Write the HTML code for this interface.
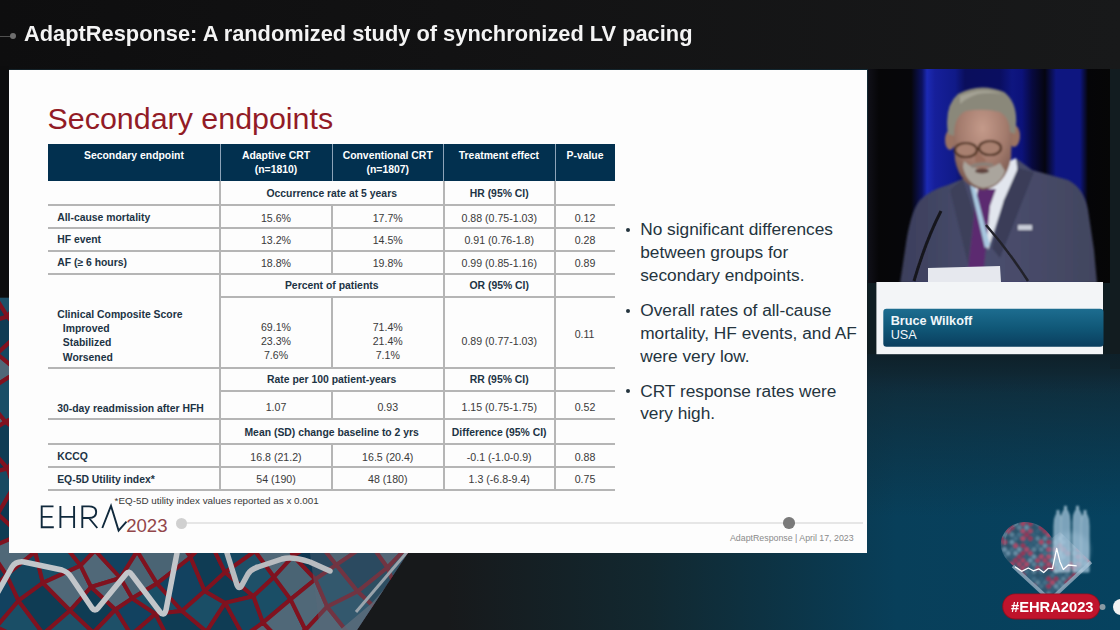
<!DOCTYPE html>
<html><head><meta charset="utf-8">
<style>
*{margin:0;padding:0;box-sizing:border-box}
html,body{width:1120px;height:630px;overflow:hidden;background:#111214;font-family:"Liberation Sans",sans-serif}
#root{position:absolute;left:0;top:0;width:1120px;height:630px;overflow:hidden;
 background:linear-gradient(180deg,rgba(19,36,44,0.85) 0%,rgba(19,36,44,0.75) 58%,rgba(19,36,44,0.35) 70%,rgba(19,36,44,0) 82%),linear-gradient(90deg,#17191b 0%,#17191b 40%,#122830 58%,#0c3446 70%,#083f5a 80%,#06425f 100%)}
.t{position:absolute;white-space:nowrap;line-height:1;transform-origin:0 0}
</style></head><body><div id="root">
<div style="position:absolute;left:0;top:0;width:1120px;height:69px;background:linear-gradient(90deg,#0e0e0f 0%,#121213 40%,#18191a 100%)"></div>
<svg style="position:absolute;left:0;top:0" width="1120" height="630" viewBox="0 0 1120 630">
<defs><clipPath id="mz"><path d="M0 298 H9 V553 H408 L357 630 H0 Z"/></clipPath>
<filter id="mzb"><feGaussianBlur stdDeviation="0.7"/></filter></defs>
<g clip-path="url(#mz)">
<rect x="0" y="290" width="420" height="340" fill="#80121f"/>
<path d="M-39.3 612.3 L-17.5 600.3 L-3.6 626.9 L-26.9 632.3 Z" fill="#144660" stroke="#80121f" stroke-width="4" stroke-linejoin="round"/>
<path d="M-26.9 632.3 L-3.6 626.9 L18.9 638.0 L-12.9 663.4 Z" fill="#4a6474" stroke="#80121f" stroke-width="4" stroke-linejoin="round"/>
<path d="M-41.8 571.0 L-11.2 548.1 L6.6 575.0 L-17.5 600.3 Z" fill="#0f3c54" stroke="#80121f" stroke-width="4" stroke-linejoin="round"/>
<path d="M-17.5 600.3 L6.6 575.0 L18.5 600.7 L-3.6 626.9 Z" fill="#124260" stroke="#80121f" stroke-width="4" stroke-linejoin="round"/>
<path d="M-3.6 626.9 L18.5 600.7 L43.3 633.9 L18.9 638.0 Z" fill="#1a4e66" stroke="#80121f" stroke-width="4" stroke-linejoin="round"/>
<path d="M18.9 638.0 L43.3 633.9 L59.2 648.8 L43.0 669.1 Z" fill="#144660" stroke="#80121f" stroke-width="4" stroke-linejoin="round"/>
<path d="M-48.1 505.8 L-25.9 476.9 L-2.2 514.0 L-26.2 519.9 Z" fill="#1a4e66" stroke="#80121f" stroke-width="4" stroke-linejoin="round"/>
<path d="M-26.2 519.9 L-2.2 514.0 L20.3 534.7 L-11.2 548.1 Z" fill="#0f3c54" stroke="#80121f" stroke-width="4" stroke-linejoin="round"/>
<path d="M-11.2 548.1 L20.3 534.7 L35.2 551.7 L6.6 575.0 Z" fill="#506878" stroke="#80121f" stroke-width="4" stroke-linejoin="round"/>
<path d="M6.6 575.0 L35.2 551.7 L42.9 582.9 L18.5 600.7 Z" fill="#144660" stroke="#80121f" stroke-width="4" stroke-linejoin="round"/>
<path d="M18.5 600.7 L42.9 582.9 L70.1 610.5 L43.3 633.9 Z" fill="#0f3c54" stroke="#80121f" stroke-width="4" stroke-linejoin="round"/>
<path d="M43.3 633.9 L70.1 610.5 L93.4 632.6 L59.2 648.8 Z" fill="#1e5068" stroke="#80121f" stroke-width="4" stroke-linejoin="round"/>
<path d="M59.2 648.8 L93.4 632.6 L108.7 660.6 L88.4 679.3 Z" fill="#1a4e66" stroke="#80121f" stroke-width="4" stroke-linejoin="round"/>
<path d="M-36.7 454.6 L-18.8 437.8 L7.7 468.5 L-25.9 476.9 Z" fill="#0d3650" stroke="#80121f" stroke-width="4" stroke-linejoin="round"/>
<path d="M-25.9 476.9 L7.7 468.5 L13.6 487.1 L-2.2 514.0 Z" fill="#184a62" stroke="#80121f" stroke-width="4" stroke-linejoin="round"/>
<path d="M-2.2 514.0 L13.6 487.1 L36.3 515.6 L20.3 534.7 Z" fill="#0d3650" stroke="#80121f" stroke-width="4" stroke-linejoin="round"/>
<path d="M20.3 534.7 L36.3 515.6 L56.6 535.3 L35.2 551.7 Z" fill="#0d3650" stroke="#80121f" stroke-width="4" stroke-linejoin="round"/>
<path d="M35.2 551.7 L56.6 535.3 L80.6 565.6 L42.9 582.9 Z" fill="#1a4e66" stroke="#80121f" stroke-width="4" stroke-linejoin="round"/>
<path d="M42.9 582.9 L80.6 565.6 L91.1 587.0 L70.1 610.5 Z" fill="#506878" stroke="#80121f" stroke-width="4" stroke-linejoin="round"/>
<path d="M70.1 610.5 L91.1 587.0 L115.5 609.5 L93.4 632.6 Z" fill="#0f3c54" stroke="#80121f" stroke-width="4" stroke-linejoin="round"/>
<path d="M93.4 632.6 L115.5 609.5 L131.3 634.9 L108.7 660.6 Z" fill="#1e5068" stroke="#80121f" stroke-width="4" stroke-linejoin="round"/>
<path d="M108.7 660.6 L131.3 634.9 L147.1 670.9 L123.0 684.8 Z" fill="#0f3c54" stroke="#80121f" stroke-width="4" stroke-linejoin="round"/>
<path d="M-32.7 416.8 L-16.8 393.7 L5.5 421.8 L-18.8 437.8 Z" fill="#506878" stroke="#80121f" stroke-width="4" stroke-linejoin="round"/>
<path d="M-18.8 437.8 L5.5 421.8 L29.5 438.8 L7.7 468.5 Z" fill="#0f3c54" stroke="#80121f" stroke-width="4" stroke-linejoin="round"/>
<path d="M7.7 468.5 L29.5 438.8 L48.5 464.7 L13.6 487.1 Z" fill="#124260" stroke="#80121f" stroke-width="4" stroke-linejoin="round"/>
<path d="M13.6 487.1 L48.5 464.7 L64.9 501.8 L36.3 515.6 Z" fill="#184a62" stroke="#80121f" stroke-width="4" stroke-linejoin="round"/>
<path d="M36.3 515.6 L64.9 501.8 L85.2 518.6 L56.6 535.3 Z" fill="#0f3c54" stroke="#80121f" stroke-width="4" stroke-linejoin="round"/>
<path d="M56.6 535.3 L85.2 518.6 L95.0 550.5 L80.6 565.6 Z" fill="#144660" stroke="#80121f" stroke-width="4" stroke-linejoin="round"/>
<path d="M80.6 565.6 L95.0 550.5 L120.5 578.0 L91.1 587.0 Z" fill="#506878" stroke="#80121f" stroke-width="4" stroke-linejoin="round"/>
<path d="M91.1 587.0 L120.5 578.0 L132.2 598.3 L115.5 609.5 Z" fill="#506878" stroke="#80121f" stroke-width="4" stroke-linejoin="round"/>
<path d="M115.5 609.5 L132.2 598.3 L155.6 613.8 L131.3 634.9 Z" fill="#124260" stroke="#80121f" stroke-width="4" stroke-linejoin="round"/>
<path d="M131.3 634.9 L155.6 613.8 L174.8 651.7 L147.1 670.9 Z" fill="#144660" stroke="#80121f" stroke-width="4" stroke-linejoin="round"/>
<path d="M-44.6 343.8 L-23.7 326.4 L-3.0 353.8 L-30.0 370.7 Z" fill="#0f3c54" stroke="#80121f" stroke-width="4" stroke-linejoin="round"/>
<path d="M-30.0 370.7 L-3.0 353.8 L18.3 371.3 L-16.8 393.7 Z" fill="#506878" stroke="#80121f" stroke-width="4" stroke-linejoin="round"/>
<path d="M-16.8 393.7 L18.3 371.3 L39.7 403.7 L5.5 421.8 Z" fill="#1a4e66" stroke="#80121f" stroke-width="4" stroke-linejoin="round"/>
<path d="M5.5 421.8 L39.7 403.7 L58.4 429.0 L29.5 438.8 Z" fill="#124260" stroke="#80121f" stroke-width="4" stroke-linejoin="round"/>
<path d="M29.5 438.8 L58.4 429.0 L70.5 450.8 L48.5 464.7 Z" fill="#506878" stroke="#80121f" stroke-width="4" stroke-linejoin="round"/>
<path d="M48.5 464.7 L70.5 450.8 L85.8 478.7 L64.9 501.8 Z" fill="#184a62" stroke="#80121f" stroke-width="4" stroke-linejoin="round"/>
<path d="M64.9 501.8 L85.8 478.7 L106.9 496.7 L85.2 518.6 Z" fill="#144660" stroke="#80121f" stroke-width="4" stroke-linejoin="round"/>
<path d="M85.2 518.6 L106.9 496.7 L124.1 534.2 L95.0 550.5 Z" fill="#144660" stroke="#80121f" stroke-width="4" stroke-linejoin="round"/>
<path d="M95.0 550.5 L124.1 534.2 L137.2 551.1 L120.5 578.0 Z" fill="#124260" stroke="#80121f" stroke-width="4" stroke-linejoin="round"/>
<path d="M120.5 578.0 L137.2 551.1 L157.0 583.5 L132.2 598.3 Z" fill="#4a6474" stroke="#80121f" stroke-width="4" stroke-linejoin="round"/>
<path d="M132.2 598.3 L157.0 583.5 L182.0 611.0 L155.6 613.8 Z" fill="#1a4e66" stroke="#80121f" stroke-width="4" stroke-linejoin="round"/>
<path d="M155.6 613.8 L182.0 611.0 L206.6 631.6 L174.8 651.7 Z" fill="#0f3c54" stroke="#80121f" stroke-width="4" stroke-linejoin="round"/>
<path d="M174.8 651.7 L206.6 631.6 L210.4 651.5 L190.7 665.1 Z" fill="#506878" stroke="#80121f" stroke-width="4" stroke-linejoin="round"/>
<path d="M-29.7 304.6 L-14.1 282.3 L7.6 316.5 L-23.7 326.4 Z" fill="#0f3c54" stroke="#80121f" stroke-width="4" stroke-linejoin="round"/>
<path d="M-23.7 326.4 L7.6 316.5 L20.8 332.0 L-3.0 353.8 Z" fill="#0f3c54" stroke="#80121f" stroke-width="4" stroke-linejoin="round"/>
<path d="M-3.0 353.8 L20.8 332.0 L45.9 359.4 L18.3 371.3 Z" fill="#144660" stroke="#80121f" stroke-width="4" stroke-linejoin="round"/>
<path d="M18.3 371.3 L45.9 359.4 L61.7 376.7 L39.7 403.7 Z" fill="#144660" stroke="#80121f" stroke-width="4" stroke-linejoin="round"/>
<path d="M39.7 403.7 L61.7 376.7 L79.9 414.2 L58.4 429.0 Z" fill="#4a6474" stroke="#80121f" stroke-width="4" stroke-linejoin="round"/>
<path d="M58.4 429.0 L79.9 414.2 L103.1 437.3 L70.5 450.8 Z" fill="#144660" stroke="#80121f" stroke-width="4" stroke-linejoin="round"/>
<path d="M70.5 450.8 L103.1 437.3 L107.1 462.0 L85.8 478.7 Z" fill="#1a4e66" stroke="#80121f" stroke-width="4" stroke-linejoin="round"/>
<path d="M85.8 478.7 L107.1 462.0 L125.4 485.2 L106.9 496.7 Z" fill="#124260" stroke="#80121f" stroke-width="4" stroke-linejoin="round"/>
<path d="M106.9 496.7 L125.4 485.2 L156.5 507.7 L124.1 534.2 Z" fill="#0f3c54" stroke="#80121f" stroke-width="4" stroke-linejoin="round"/>
<path d="M124.1 534.2 L156.5 507.7 L172.5 530.8 L137.2 551.1 Z" fill="#0d3650" stroke="#80121f" stroke-width="4" stroke-linejoin="round"/>
<path d="M137.2 551.1 L172.5 530.8 L190.6 557.2 L157.0 583.5 Z" fill="#4a6474" stroke="#80121f" stroke-width="4" stroke-linejoin="round"/>
<path d="M157.0 583.5 L190.6 557.2 L204.7 591.0 L182.0 611.0 Z" fill="#124260" stroke="#80121f" stroke-width="4" stroke-linejoin="round"/>
<path d="M182.0 611.0 L204.7 591.0 L225.2 602.9 L206.6 631.6 Z" fill="#1a4e66" stroke="#80121f" stroke-width="4" stroke-linejoin="round"/>
<path d="M206.6 631.6 L225.2 602.9 L243.7 636.6 L210.4 651.5 Z" fill="#0f3c54" stroke="#80121f" stroke-width="4" stroke-linejoin="round"/>
<path d="M-14.1 282.3 L9.4 271.7 L27.0 290.1 L7.6 316.5 Z" fill="#1e5068" stroke="#80121f" stroke-width="4" stroke-linejoin="round"/>
<path d="M7.6 316.5 L27.0 290.1 L49.6 323.6 L20.8 332.0 Z" fill="#1a4e66" stroke="#80121f" stroke-width="4" stroke-linejoin="round"/>
<path d="M20.8 332.0 L49.6 323.6 L64.7 344.3 L45.9 359.4 Z" fill="#144660" stroke="#80121f" stroke-width="4" stroke-linejoin="round"/>
<path d="M45.9 359.4 L64.7 344.3 L82.1 367.3 L61.7 376.7 Z" fill="#0d3650" stroke="#80121f" stroke-width="4" stroke-linejoin="round"/>
<path d="M61.7 376.7 L82.1 367.3 L110.9 394.8 L79.9 414.2 Z" fill="#184a62" stroke="#80121f" stroke-width="4" stroke-linejoin="round"/>
<path d="M79.9 414.2 L110.9 394.8 L116.9 414.9 L103.1 437.3 Z" fill="#124260" stroke="#80121f" stroke-width="4" stroke-linejoin="round"/>
<path d="M103.1 437.3 L116.9 414.9 L139.3 437.1 L107.1 462.0 Z" fill="#124260" stroke="#80121f" stroke-width="4" stroke-linejoin="round"/>
<path d="M107.1 462.0 L139.3 437.1 L155.0 476.0 L125.4 485.2 Z" fill="#0d3650" stroke="#80121f" stroke-width="4" stroke-linejoin="round"/>
<path d="M125.4 485.2 L155.0 476.0 L177.3 496.7 L156.5 507.7 Z" fill="#0f3c54" stroke="#80121f" stroke-width="4" stroke-linejoin="round"/>
<path d="M156.5 507.7 L177.3 496.7 L195.9 522.6 L172.5 530.8 Z" fill="#0f3c54" stroke="#80121f" stroke-width="4" stroke-linejoin="round"/>
<path d="M172.5 530.8 L195.9 522.6 L208.8 539.1 L190.6 557.2 Z" fill="#0f3c54" stroke="#80121f" stroke-width="4" stroke-linejoin="round"/>
<path d="M190.6 557.2 L208.8 539.1 L225.1 572.3 L204.7 591.0 Z" fill="#0f3c54" stroke="#80121f" stroke-width="4" stroke-linejoin="round"/>
<path d="M204.7 591.0 L225.1 572.3 L253.4 596.3 L225.2 602.9 Z" fill="#0f3c54" stroke="#80121f" stroke-width="4" stroke-linejoin="round"/>
<path d="M225.2 602.9 L253.4 596.3 L263.0 622.6 L243.7 636.6 Z" fill="#144660" stroke="#80121f" stroke-width="4" stroke-linejoin="round"/>
<path d="M243.7 636.6 L263.0 622.6 L283.5 644.0 L255.5 662.0 Z" fill="#506878" stroke="#80121f" stroke-width="4" stroke-linejoin="round"/>
<path d="M9.4 271.7 L37.6 243.0 L56.6 278.3 L27.0 290.1 Z" fill="#0d3650" stroke="#80121f" stroke-width="4" stroke-linejoin="round"/>
<path d="M27.0 290.1 L56.6 278.3 L74.2 292.4 L49.6 323.6 Z" fill="#0d3650" stroke="#80121f" stroke-width="4" stroke-linejoin="round"/>
<path d="M49.6 323.6 L74.2 292.4 L87.3 324.9 L64.7 344.3 Z" fill="#1a4e66" stroke="#80121f" stroke-width="4" stroke-linejoin="round"/>
<path d="M64.7 344.3 L87.3 324.9 L108.8 347.4 L82.1 367.3 Z" fill="#124260" stroke="#80121f" stroke-width="4" stroke-linejoin="round"/>
<path d="M82.1 367.3 L108.8 347.4 L121.4 374.1 L110.9 394.8 Z" fill="#0f3c54" stroke="#80121f" stroke-width="4" stroke-linejoin="round"/>
<path d="M110.9 394.8 L121.4 374.1 L151.8 401.6 L116.9 414.9 Z" fill="#1e5068" stroke="#80121f" stroke-width="4" stroke-linejoin="round"/>
<path d="M116.9 414.9 L151.8 401.6 L159.5 428.6 L139.3 437.1 Z" fill="#1e5068" stroke="#80121f" stroke-width="4" stroke-linejoin="round"/>
<path d="M139.3 437.1 L159.5 428.6 L181.5 441.8 L155.0 476.0 Z" fill="#124260" stroke="#80121f" stroke-width="4" stroke-linejoin="round"/>
<path d="M155.0 476.0 L181.5 441.8 L201.3 467.1 L177.3 496.7 Z" fill="#124260" stroke="#80121f" stroke-width="4" stroke-linejoin="round"/>
<path d="M177.3 496.7 L201.3 467.1 L220.4 499.1 L195.9 522.6 Z" fill="#1a4e66" stroke="#80121f" stroke-width="4" stroke-linejoin="round"/>
<path d="M195.9 522.6 L220.4 499.1 L236.9 521.1 L208.8 539.1 Z" fill="#1a4e66" stroke="#80121f" stroke-width="4" stroke-linejoin="round"/>
<path d="M208.8 539.1 L236.9 521.1 L255.1 551.1 L225.1 572.3 Z" fill="#144660" stroke="#80121f" stroke-width="4" stroke-linejoin="round"/>
<path d="M225.1 572.3 L255.1 551.1 L274.0 577.0 L253.4 596.3 Z" fill="#1e5068" stroke="#80121f" stroke-width="4" stroke-linejoin="round"/>
<path d="M253.4 596.3 L274.0 577.0 L290.6 599.4 L263.0 622.6 Z" fill="#1a4e66" stroke="#80121f" stroke-width="4" stroke-linejoin="round"/>
<path d="M263.0 622.6 L290.6 599.4 L305.5 630.0 L283.5 644.0 Z" fill="#506878" stroke="#80121f" stroke-width="4" stroke-linejoin="round"/>
<path d="M283.5 644.0 L305.5 630.0 L325.9 646.9 L297.3 668.5 Z" fill="#124260" stroke="#80121f" stroke-width="4" stroke-linejoin="round"/>
<path d="M56.6 278.3 L82.1 247.5 L106.3 283.1 L74.2 292.4 Z" fill="#506878" stroke="#80121f" stroke-width="4" stroke-linejoin="round"/>
<path d="M74.2 292.4 L106.3 283.1 L121.6 307.2 L87.3 324.9 Z" fill="#124260" stroke="#80121f" stroke-width="4" stroke-linejoin="round"/>
<path d="M87.3 324.9 L121.6 307.2 L135.1 338.6 L108.8 347.4 Z" fill="#0d3650" stroke="#80121f" stroke-width="4" stroke-linejoin="round"/>
<path d="M108.8 347.4 L135.1 338.6 L156.5 360.9 L121.4 374.1 Z" fill="#1e5068" stroke="#80121f" stroke-width="4" stroke-linejoin="round"/>
<path d="M121.4 374.1 L156.5 360.9 L173.0 373.6 L151.8 401.6 Z" fill="#0d3650" stroke="#80121f" stroke-width="4" stroke-linejoin="round"/>
<path d="M151.8 401.6 L173.0 373.6 L196.1 408.4 L159.5 428.6 Z" fill="#0d3650" stroke="#80121f" stroke-width="4" stroke-linejoin="round"/>
<path d="M159.5 428.6 L196.1 408.4 L201.3 432.8 L181.5 441.8 Z" fill="#0f3c54" stroke="#80121f" stroke-width="4" stroke-linejoin="round"/>
<path d="M181.5 441.8 L201.3 432.8 L225.8 450.0 L201.3 467.1 Z" fill="#1e5068" stroke="#80121f" stroke-width="4" stroke-linejoin="round"/>
<path d="M201.3 467.1 L225.8 450.0 L246.6 475.3 L220.4 499.1 Z" fill="#0f3c54" stroke="#80121f" stroke-width="4" stroke-linejoin="round"/>
<path d="M220.4 499.1 L246.6 475.3 L262.8 499.5 L236.9 521.1 Z" fill="#1a4e66" stroke="#80121f" stroke-width="4" stroke-linejoin="round"/>
<path d="M236.9 521.1 L262.8 499.5 L283.9 536.0 L255.1 551.1 Z" fill="#0d3650" stroke="#80121f" stroke-width="4" stroke-linejoin="round"/>
<path d="M255.1 551.1 L283.9 536.0 L293.3 556.0 L274.0 577.0 Z" fill="#506878" stroke="#80121f" stroke-width="4" stroke-linejoin="round"/>
<path d="M274.0 577.0 L293.3 556.0 L315.4 579.3 L290.6 599.4 Z" fill="#4a6474" stroke="#80121f" stroke-width="4" stroke-linejoin="round"/>
<path d="M290.6 599.4 L315.4 579.3 L327.2 606.7 L305.5 630.0 Z" fill="#506878" stroke="#80121f" stroke-width="4" stroke-linejoin="round"/>
<path d="M305.5 630.0 L327.2 606.7 L353.0 639.3 L325.9 646.9 Z" fill="#506878" stroke="#80121f" stroke-width="4" stroke-linejoin="round"/>
<path d="M106.3 283.1 L119.9 259.0 L140.5 280.2 L121.6 307.2 Z" fill="#506878" stroke="#80121f" stroke-width="4" stroke-linejoin="round"/>
<path d="M121.6 307.2 L140.5 280.2 L161.3 307.0 L135.1 338.6 Z" fill="#4a6474" stroke="#80121f" stroke-width="4" stroke-linejoin="round"/>
<path d="M135.1 338.6 L161.3 307.0 L183.5 341.8 L156.5 360.9 Z" fill="#124260" stroke="#80121f" stroke-width="4" stroke-linejoin="round"/>
<path d="M156.5 360.9 L183.5 341.8 L198.5 363.7 L173.0 373.6 Z" fill="#0d3650" stroke="#80121f" stroke-width="4" stroke-linejoin="round"/>
<path d="M173.0 373.6 L198.5 363.7 L208.1 383.5 L196.1 408.4 Z" fill="#0f3c54" stroke="#80121f" stroke-width="4" stroke-linejoin="round"/>
<path d="M196.1 408.4 L208.1 383.5 L224.4 412.6 L201.3 432.8 Z" fill="#1e5068" stroke="#80121f" stroke-width="4" stroke-linejoin="round"/>
<path d="M201.3 432.8 L224.4 412.6 L251.6 436.1 L225.8 450.0 Z" fill="#0d3650" stroke="#80121f" stroke-width="4" stroke-linejoin="round"/>
<path d="M225.8 450.0 L251.6 436.1 L272.4 467.2 L246.6 475.3 Z" fill="#0d3650" stroke="#80121f" stroke-width="4" stroke-linejoin="round"/>
<path d="M246.6 475.3 L272.4 467.2 L280.8 487.9 L262.8 499.5 Z" fill="#506878" stroke="#80121f" stroke-width="4" stroke-linejoin="round"/>
<path d="M262.8 499.5 L280.8 487.9 L303.3 506.4 L283.9 536.0 Z" fill="#1a4e66" stroke="#80121f" stroke-width="4" stroke-linejoin="round"/>
<path d="M283.9 536.0 L303.3 506.4 L316.9 540.6 L293.3 556.0 Z" fill="#0f3c54" stroke="#80121f" stroke-width="4" stroke-linejoin="round"/>
<path d="M293.3 556.0 L316.9 540.6 L336.3 564.8 L315.4 579.3 Z" fill="#0d3650" stroke="#80121f" stroke-width="4" stroke-linejoin="round"/>
<path d="M315.4 579.3 L336.3 564.8 L357.7 591.5 L327.2 606.7 Z" fill="#1a4e66" stroke="#80121f" stroke-width="4" stroke-linejoin="round"/>
<path d="M327.2 606.7 L357.7 591.5 L376.9 609.3 L353.0 639.3 Z" fill="#1a4e66" stroke="#80121f" stroke-width="4" stroke-linejoin="round"/>
<path d="M353.0 639.3 L376.9 609.3 L397.8 637.1 L376.8 659.6 Z" fill="#0d3650" stroke="#80121f" stroke-width="4" stroke-linejoin="round"/>
<path d="M140.5 280.2 L163.3 266.9 L182.1 301.0 L161.3 307.0 Z" fill="#184a62" stroke="#80121f" stroke-width="4" stroke-linejoin="round"/>
<path d="M161.3 307.0 L182.1 301.0 L197.9 323.8 L183.5 341.8 Z" fill="#124260" stroke="#80121f" stroke-width="4" stroke-linejoin="round"/>
<path d="M183.5 341.8 L197.9 323.8 L223.3 336.6 L198.5 363.7 Z" fill="#1e5068" stroke="#80121f" stroke-width="4" stroke-linejoin="round"/>
<path d="M198.5 363.7 L223.3 336.6 L236.9 373.1 L208.1 383.5 Z" fill="#184a62" stroke="#80121f" stroke-width="4" stroke-linejoin="round"/>
<path d="M208.1 383.5 L236.9 373.1 L258.9 396.0 L224.4 412.6 Z" fill="#144660" stroke="#80121f" stroke-width="4" stroke-linejoin="round"/>
<path d="M224.4 412.6 L258.9 396.0 L276.7 413.3 L251.6 436.1 Z" fill="#184a62" stroke="#80121f" stroke-width="4" stroke-linejoin="round"/>
<path d="M251.6 436.1 L276.7 413.3 L290.3 444.0 L272.4 467.2 Z" fill="#184a62" stroke="#80121f" stroke-width="4" stroke-linejoin="round"/>
<path d="M272.4 467.2 L290.3 444.0 L310.4 477.8 L280.8 487.9 Z" fill="#124260" stroke="#80121f" stroke-width="4" stroke-linejoin="round"/>
<path d="M280.8 487.9 L310.4 477.8 L335.5 494.9 L303.3 506.4 Z" fill="#506878" stroke="#80121f" stroke-width="4" stroke-linejoin="round"/>
<path d="M303.3 506.4 L335.5 494.9 L346.0 527.8 L316.9 540.6 Z" fill="#4a6474" stroke="#80121f" stroke-width="4" stroke-linejoin="round"/>
<path d="M316.9 540.6 L346.0 527.8 L369.5 542.6 L336.3 564.8 Z" fill="#4a6474" stroke="#80121f" stroke-width="4" stroke-linejoin="round"/>
<path d="M336.3 564.8 L369.5 542.6 L387.6 567.5 L357.7 591.5 Z" fill="#0d3650" stroke="#80121f" stroke-width="4" stroke-linejoin="round"/>
<path d="M357.7 591.5 L387.6 567.5 L397.1 592.9 L376.9 609.3 Z" fill="#0f3c54" stroke="#80121f" stroke-width="4" stroke-linejoin="round"/>
<path d="M376.9 609.3 L397.1 592.9 L414.8 617.2 L397.8 637.1 Z" fill="#506878" stroke="#80121f" stroke-width="4" stroke-linejoin="round"/>
<path d="M397.8 637.1 L414.8 617.2 L440.1 649.5 L414.2 671.5 Z" fill="#124260" stroke="#80121f" stroke-width="4" stroke-linejoin="round"/>
<path d="M163.3 266.9 L194.5 245.8 L210.2 282.7 L182.1 301.0 Z" fill="#4a6474" stroke="#80121f" stroke-width="4" stroke-linejoin="round"/>
<path d="M182.1 301.0 L210.2 282.7 L231.1 302.1 L197.9 323.8 Z" fill="#0d3650" stroke="#80121f" stroke-width="4" stroke-linejoin="round"/>
<path d="M197.9 323.8 L231.1 302.1 L252.1 330.2 L223.3 336.6 Z" fill="#0f3c54" stroke="#80121f" stroke-width="4" stroke-linejoin="round"/>
<path d="M223.3 336.6 L252.1 330.2 L267.0 355.3 L236.9 373.1 Z" fill="#506878" stroke="#80121f" stroke-width="4" stroke-linejoin="round"/>
<path d="M236.9 373.1 L267.0 355.3 L287.9 378.7 L258.9 396.0 Z" fill="#124260" stroke="#80121f" stroke-width="4" stroke-linejoin="round"/>
<path d="M258.9 396.0 L287.9 378.7 L302.1 404.4 L276.7 413.3 Z" fill="#184a62" stroke="#80121f" stroke-width="4" stroke-linejoin="round"/>
<path d="M276.7 413.3 L302.1 404.4 L318.4 423.7 L290.3 444.0 Z" fill="#144660" stroke="#80121f" stroke-width="4" stroke-linejoin="round"/>
<path d="M290.3 444.0 L318.4 423.7 L335.1 455.3 L310.4 477.8 Z" fill="#184a62" stroke="#80121f" stroke-width="4" stroke-linejoin="round"/>
<path d="M310.4 477.8 L335.1 455.3 L354.2 484.7 L335.5 494.9 Z" fill="#1e5068" stroke="#80121f" stroke-width="4" stroke-linejoin="round"/>
<path d="M335.5 494.9 L354.2 484.7 L365.9 499.2 L346.0 527.8 Z" fill="#144660" stroke="#80121f" stroke-width="4" stroke-linejoin="round"/>
<path d="M346.0 527.8 L365.9 499.2 L391.1 534.8 L369.5 542.6 Z" fill="#4a6474" stroke="#80121f" stroke-width="4" stroke-linejoin="round"/>
<path d="M369.5 542.6 L391.1 534.8 L405.6 549.0 L387.6 567.5 Z" fill="#506878" stroke="#80121f" stroke-width="4" stroke-linejoin="round"/>
<path d="M387.6 567.5 L405.6 549.0 L419.4 575.6 L397.1 592.9 Z" fill="#184a62" stroke="#80121f" stroke-width="4" stroke-linejoin="round"/>
<path d="M397.1 592.9 L419.4 575.6 L450.0 601.9 L414.8 617.2 Z" fill="#0d3650" stroke="#80121f" stroke-width="4" stroke-linejoin="round"/>
<path d="M414.8 617.2 L450.0 601.9 L469.1 628.1 L440.1 649.5 Z" fill="#184a62" stroke="#80121f" stroke-width="4" stroke-linejoin="round"/>
<path d="M210.2 282.7 L235.4 252.3 L250.5 283.4 L231.1 302.1 Z" fill="#1e5068" stroke="#80121f" stroke-width="4" stroke-linejoin="round"/>
<path d="M231.1 302.1 L250.5 283.4 L263.9 309.1 L252.1 330.2 Z" fill="#124260" stroke="#80121f" stroke-width="4" stroke-linejoin="round"/>
<path d="M252.1 330.2 L263.9 309.1 L288.9 337.2 L267.0 355.3 Z" fill="#184a62" stroke="#80121f" stroke-width="4" stroke-linejoin="round"/>
<path d="M267.0 355.3 L288.9 337.2 L304.8 357.1 L287.9 378.7 Z" fill="#4a6474" stroke="#80121f" stroke-width="4" stroke-linejoin="round"/>
<path d="M287.9 378.7 L304.8 357.1 L331.3 379.3 L302.1 404.4 Z" fill="#4a6474" stroke="#80121f" stroke-width="4" stroke-linejoin="round"/>
<path d="M302.1 404.4 L331.3 379.3 L349.2 406.7 L318.4 423.7 Z" fill="#4a6474" stroke="#80121f" stroke-width="4" stroke-linejoin="round"/>
<path d="M318.4 423.7 L349.2 406.7 L356.4 436.2 L335.1 455.3 Z" fill="#4a6474" stroke="#80121f" stroke-width="4" stroke-linejoin="round"/>
<path d="M335.1 455.3 L356.4 436.2 L382.2 462.0 L354.2 484.7 Z" fill="#144660" stroke="#80121f" stroke-width="4" stroke-linejoin="round"/>
<path d="M354.2 484.7 L382.2 462.0 L398.9 487.0 L365.9 499.2 Z" fill="#1a4e66" stroke="#80121f" stroke-width="4" stroke-linejoin="round"/>
<path d="M365.9 499.2 L398.9 487.0 L415.2 505.0 L391.1 534.8 Z" fill="#0d3650" stroke="#80121f" stroke-width="4" stroke-linejoin="round"/>
<path d="M391.1 534.8 L415.2 505.0 L436.1 526.0 L405.6 549.0 Z" fill="#1e5068" stroke="#80121f" stroke-width="4" stroke-linejoin="round"/>
<path d="M405.6 549.0 L436.1 526.0 L454.5 552.3 L419.4 575.6 Z" fill="#1e5068" stroke="#80121f" stroke-width="4" stroke-linejoin="round"/>
<path d="M419.4 575.6 L454.5 552.3 L463.7 584.5 L450.0 601.9 Z" fill="#506878" stroke="#80121f" stroke-width="4" stroke-linejoin="round"/>
<path d="M250.5 283.4 L279.2 256.7 L296.9 281.1 L263.9 309.1 Z" fill="#184a62" stroke="#80121f" stroke-width="4" stroke-linejoin="round"/>
<path d="M263.9 309.1 L296.9 281.1 L309.4 314.5 L288.9 337.2 Z" fill="#1a4e66" stroke="#80121f" stroke-width="4" stroke-linejoin="round"/>
<path d="M288.9 337.2 L309.4 314.5 L337.4 336.5 L304.8 357.1 Z" fill="#4a6474" stroke="#80121f" stroke-width="4" stroke-linejoin="round"/>
<path d="M304.8 357.1 L337.4 336.5 L352.9 370.2 L331.3 379.3 Z" fill="#0f3c54" stroke="#80121f" stroke-width="4" stroke-linejoin="round"/>
<path d="M331.3 379.3 L352.9 370.2 L366.0 391.7 L349.2 406.7 Z" fill="#124260" stroke="#80121f" stroke-width="4" stroke-linejoin="round"/>
<path d="M349.2 406.7 L366.0 391.7 L390.0 417.7 L356.4 436.2 Z" fill="#1e5068" stroke="#80121f" stroke-width="4" stroke-linejoin="round"/>
<path d="M356.4 436.2 L390.0 417.7 L409.8 439.7 L382.2 462.0 Z" fill="#144660" stroke="#80121f" stroke-width="4" stroke-linejoin="round"/>
<path d="M382.2 462.0 L409.8 439.7 L420.9 464.5 L398.9 487.0 Z" fill="#1e5068" stroke="#80121f" stroke-width="4" stroke-linejoin="round"/>
<path d="M398.9 487.0 L420.9 464.5 L441.1 497.0 L415.2 505.0 Z" fill="#124260" stroke="#80121f" stroke-width="4" stroke-linejoin="round"/>
<path d="M415.2 505.0 L441.1 497.0 L464.3 516.8 L436.1 526.0 Z" fill="#144660" stroke="#80121f" stroke-width="4" stroke-linejoin="round"/>
<path d="M296.9 281.1 L314.7 271.4 L334.7 292.2 L309.4 314.5 Z" fill="#1a4e66" stroke="#80121f" stroke-width="4" stroke-linejoin="round"/>
<path d="M309.4 314.5 L334.7 292.2 L359.2 325.7 L337.4 336.5 Z" fill="#1e5068" stroke="#80121f" stroke-width="4" stroke-linejoin="round"/>
<path d="M337.4 336.5 L359.2 325.7 L378.4 345.1 L352.9 370.2 Z" fill="#0f3c54" stroke="#80121f" stroke-width="4" stroke-linejoin="round"/>
<path d="M352.9 370.2 L378.4 345.1 L395.6 370.3 L366.0 391.7 Z" fill="#1e5068" stroke="#80121f" stroke-width="4" stroke-linejoin="round"/>
<path d="M366.0 391.7 L395.6 370.3 L409.4 401.0 L390.0 417.7 Z" fill="#0d3650" stroke="#80121f" stroke-width="4" stroke-linejoin="round"/>
<path d="M390.0 417.7 L409.4 401.0 L431.8 425.4 L409.8 439.7 Z" fill="#184a62" stroke="#80121f" stroke-width="4" stroke-linejoin="round"/>
<path d="M409.8 439.7 L431.8 425.4 L453.1 442.8 L420.9 464.5 Z" fill="#0f3c54" stroke="#80121f" stroke-width="4" stroke-linejoin="round"/>
<path d="M314.7 271.4 L351.8 249.8 L360.9 282.4 L334.7 292.2 Z" fill="#144660" stroke="#80121f" stroke-width="4" stroke-linejoin="round"/>
<path d="M334.7 292.2 L360.9 282.4 L385.3 305.5 L359.2 325.7 Z" fill="#0f3c54" stroke="#80121f" stroke-width="4" stroke-linejoin="round"/>
<path d="M359.2 325.7 L385.3 305.5 L402.6 329.9 L378.4 345.1 Z" fill="#4a6474" stroke="#80121f" stroke-width="4" stroke-linejoin="round"/>
<path d="M378.4 345.1 L402.6 329.9 L423.4 351.1 L395.6 370.3 Z" fill="#124260" stroke="#80121f" stroke-width="4" stroke-linejoin="round"/>
<path d="M395.6 370.3 L423.4 351.1 L440.4 384.4 L409.4 401.0 Z" fill="#4a6474" stroke="#80121f" stroke-width="4" stroke-linejoin="round"/>
<path d="M409.4 401.0 L440.4 384.4 L454.2 408.2 L431.8 425.4 Z" fill="#0d3650" stroke="#80121f" stroke-width="4" stroke-linejoin="round"/>
<path d="M360.9 282.4 L392.0 254.6 L404.7 283.4 L385.3 305.5 Z" fill="#0d3650" stroke="#80121f" stroke-width="4" stroke-linejoin="round"/>
<path d="M385.3 305.5 L404.7 283.4 L422.9 307.3 L402.6 329.9 Z" fill="#506878" stroke="#80121f" stroke-width="4" stroke-linejoin="round"/>
<path d="M402.6 329.9 L422.9 307.3 L440.8 341.9 L423.4 351.1 Z" fill="#144660" stroke="#80121f" stroke-width="4" stroke-linejoin="round"/>
<path d="M404.7 283.4 L427.2 265.0 L447.7 287.1 L422.9 307.3 Z" fill="#124260" stroke="#80121f" stroke-width="4" stroke-linejoin="round"/>
<path d="M310 553 L408 553 L357 630 L320 630 Z" fill="#5a6a78" opacity="0.4"/><path d="M372 603 L392 580 L360 630 L340 630 Z" fill="#5c6e7c" opacity="0.8"/>
<path d="M408 551 L356 612" stroke="#9aa4ac" stroke-width="3" fill="none"/>
<path d="M-2 592 L12 567 Q16 561 24 562 L62 570 Q68 572 71 577 L92 608 Q95 612 98 608 L126 574 Q129 570 132 575 L160 612 Q164 617 166 610 L177 553" stroke="#c2c6ca" stroke-width="5.5" fill="none" stroke-linejoin="round" stroke-linecap="round"/>
<path d="M227 553 L237 585 Q239 590 242 585 L248 574 Q251 569 258 567 L282 559 Q292 556 310 562 L330 571" stroke="#b8bcc0" stroke-width="5.5" fill="none" stroke-linejoin="round" stroke-linecap="round"/>
</g></svg>
<svg style="position:absolute;left:0;top:0" width="1120" height="630" viewBox="0 0 1120 630">
<defs><clipPath id="hz"><path d="M1050 600 L1008 561 Q998 550 1002 537 Q1008 523 1024 522 Q1042 522 1052 538 L1060 532 L1091 562 Z"/></clipPath>
<filter id="lb"><feGaussianBlur stdDeviation="0.9"/></filter>
<filter id="lb2"><feGaussianBlur stdDeviation="2.5"/></filter></defs>
<g clip-path="url(#hz)" filter="url(#lb)">
<rect x="995" y="515" width="100" height="80" fill="#2a5670"/>
<g transform="rotate(45 1045 555)">
<rect x="979.2" y="489.2" width="4.2" height="4.2" fill="#5c8298"/>
<rect x="979.2" y="494.4" width="4.2" height="4.2" fill="#a84262"/>
<rect x="979.2" y="499.6" width="4.2" height="4.2" fill="#9a3456"/>
<rect x="979.2" y="504.8" width="4.2" height="4.2" fill="#6a90a8"/>
<rect x="979.2" y="510.0" width="4.2" height="4.2" fill="#2e546c"/>
<rect x="979.2" y="515.2" width="4.2" height="4.2" fill="#5c8298"/>
<rect x="979.2" y="520.4" width="4.2" height="4.2" fill="#34607a"/>
<rect x="979.2" y="525.6" width="4.2" height="4.2" fill="#456f88"/>
<rect x="979.2" y="530.8" width="4.2" height="4.2" fill="#9a3456"/>
<rect x="979.2" y="536.0" width="4.2" height="4.2" fill="#9a3456"/>
<rect x="979.2" y="541.2" width="4.2" height="4.2" fill="#9a3456"/>
<rect x="979.2" y="546.4" width="4.2" height="4.2" fill="#6a90a8"/>
<rect x="979.2" y="551.6" width="4.2" height="4.2" fill="#b04a68"/>
<rect x="979.2" y="556.8" width="4.2" height="4.2" fill="#b04a68"/>
<rect x="979.2" y="562.0" width="4.2" height="4.2" fill="#456f88"/>
<rect x="979.2" y="567.2" width="4.2" height="4.2" fill="#34607a"/>
<rect x="979.2" y="572.4" width="4.2" height="4.2" fill="#456f88"/>
<rect x="979.2" y="577.6" width="4.2" height="4.2" fill="#456f88"/>
<rect x="979.2" y="582.8" width="4.2" height="4.2" fill="#a84262"/>
<rect x="979.2" y="588.0" width="4.2" height="4.2" fill="#6a90a8"/>
<rect x="979.2" y="593.2" width="4.2" height="4.2" fill="#2e546c"/>
<rect x="979.2" y="598.4" width="4.2" height="4.2" fill="#456f88"/>
<rect x="979.2" y="603.6" width="4.2" height="4.2" fill="#34607a"/>
<rect x="979.2" y="608.8" width="4.2" height="4.2" fill="#5c8298"/>
<rect x="979.2" y="614.0" width="4.2" height="4.2" fill="#b04a68"/>
<rect x="979.2" y="619.2" width="4.2" height="4.2" fill="#5c8298"/>
<rect x="979.2" y="624.4" width="4.2" height="4.2" fill="#6a90a8"/>
<rect x="979.2" y="629.6" width="4.2" height="4.2" fill="#2e546c"/>
<rect x="984.4" y="489.2" width="4.2" height="4.2" fill="#2e546c"/>
<rect x="984.4" y="494.4" width="4.2" height="4.2" fill="#5c8298"/>
<rect x="984.4" y="499.6" width="4.2" height="4.2" fill="#9a3456"/>
<rect x="984.4" y="504.8" width="4.2" height="4.2" fill="#a84262"/>
<rect x="984.4" y="510.0" width="4.2" height="4.2" fill="#6a90a8"/>
<rect x="984.4" y="515.2" width="4.2" height="4.2" fill="#9a3456"/>
<rect x="984.4" y="520.4" width="4.2" height="4.2" fill="#9a3456"/>
<rect x="984.4" y="525.6" width="4.2" height="4.2" fill="#9a3456"/>
<rect x="984.4" y="530.8" width="4.2" height="4.2" fill="#a84262"/>
<rect x="984.4" y="536.0" width="4.2" height="4.2" fill="#b04a68"/>
<rect x="984.4" y="541.2" width="4.2" height="4.2" fill="#9a3456"/>
<rect x="984.4" y="546.4" width="4.2" height="4.2" fill="#456f88"/>
<rect x="984.4" y="551.6" width="4.2" height="4.2" fill="#5c8298"/>
<rect x="984.4" y="556.8" width="4.2" height="4.2" fill="#6a90a8"/>
<rect x="984.4" y="562.0" width="4.2" height="4.2" fill="#9a3456"/>
<rect x="984.4" y="567.2" width="4.2" height="4.2" fill="#2e546c"/>
<rect x="984.4" y="572.4" width="4.2" height="4.2" fill="#a84262"/>
<rect x="984.4" y="577.6" width="4.2" height="4.2" fill="#b04a68"/>
<rect x="984.4" y="582.8" width="4.2" height="4.2" fill="#456f88"/>
<rect x="984.4" y="588.0" width="4.2" height="4.2" fill="#b04a68"/>
<rect x="984.4" y="593.2" width="4.2" height="4.2" fill="#6a90a8"/>
<rect x="984.4" y="598.4" width="4.2" height="4.2" fill="#6a90a8"/>
<rect x="984.4" y="603.6" width="4.2" height="4.2" fill="#a84262"/>
<rect x="984.4" y="608.8" width="4.2" height="4.2" fill="#34607a"/>
<rect x="984.4" y="614.0" width="4.2" height="4.2" fill="#456f88"/>
<rect x="984.4" y="619.2" width="4.2" height="4.2" fill="#6a90a8"/>
<rect x="984.4" y="624.4" width="4.2" height="4.2" fill="#b04a68"/>
<rect x="984.4" y="629.6" width="4.2" height="4.2" fill="#34607a"/>
<rect x="989.6" y="489.2" width="4.2" height="4.2" fill="#5c8298"/>
<rect x="989.6" y="494.4" width="4.2" height="4.2" fill="#b04a68"/>
<rect x="989.6" y="499.6" width="4.2" height="4.2" fill="#2e546c"/>
<rect x="989.6" y="504.8" width="4.2" height="4.2" fill="#5c8298"/>
<rect x="989.6" y="510.0" width="4.2" height="4.2" fill="#9a3456"/>
<rect x="989.6" y="515.2" width="4.2" height="4.2" fill="#b04a68"/>
<rect x="989.6" y="520.4" width="4.2" height="4.2" fill="#2e546c"/>
<rect x="989.6" y="525.6" width="4.2" height="4.2" fill="#9a3456"/>
<rect x="989.6" y="530.8" width="4.2" height="4.2" fill="#5c8298"/>
<rect x="989.6" y="536.0" width="4.2" height="4.2" fill="#2e546c"/>
<rect x="989.6" y="541.2" width="4.2" height="4.2" fill="#456f88"/>
<rect x="989.6" y="546.4" width="4.2" height="4.2" fill="#6a90a8"/>
<rect x="989.6" y="551.6" width="4.2" height="4.2" fill="#5c8298"/>
<rect x="989.6" y="556.8" width="4.2" height="4.2" fill="#b04a68"/>
<rect x="989.6" y="562.0" width="4.2" height="4.2" fill="#456f88"/>
<rect x="989.6" y="567.2" width="4.2" height="4.2" fill="#34607a"/>
<rect x="989.6" y="572.4" width="4.2" height="4.2" fill="#9a3456"/>
<rect x="989.6" y="577.6" width="4.2" height="4.2" fill="#456f88"/>
<rect x="989.6" y="582.8" width="4.2" height="4.2" fill="#b04a68"/>
<rect x="989.6" y="588.0" width="4.2" height="4.2" fill="#6a90a8"/>
<rect x="989.6" y="593.2" width="4.2" height="4.2" fill="#6a90a8"/>
<rect x="989.6" y="598.4" width="4.2" height="4.2" fill="#2e546c"/>
<rect x="989.6" y="603.6" width="4.2" height="4.2" fill="#b04a68"/>
<rect x="989.6" y="608.8" width="4.2" height="4.2" fill="#456f88"/>
<rect x="989.6" y="614.0" width="4.2" height="4.2" fill="#6a90a8"/>
<rect x="989.6" y="619.2" width="4.2" height="4.2" fill="#5c8298"/>
<rect x="989.6" y="624.4" width="4.2" height="4.2" fill="#6a90a8"/>
<rect x="989.6" y="629.6" width="4.2" height="4.2" fill="#2e546c"/>
<rect x="994.8" y="489.2" width="4.2" height="4.2" fill="#9a3456"/>
<rect x="994.8" y="494.4" width="4.2" height="4.2" fill="#5c8298"/>
<rect x="994.8" y="499.6" width="4.2" height="4.2" fill="#b04a68"/>
<rect x="994.8" y="504.8" width="4.2" height="4.2" fill="#5c8298"/>
<rect x="994.8" y="510.0" width="4.2" height="4.2" fill="#b04a68"/>
<rect x="994.8" y="515.2" width="4.2" height="4.2" fill="#5c8298"/>
<rect x="994.8" y="520.4" width="4.2" height="4.2" fill="#a84262"/>
<rect x="994.8" y="525.6" width="4.2" height="4.2" fill="#34607a"/>
<rect x="994.8" y="530.8" width="4.2" height="4.2" fill="#34607a"/>
<rect x="994.8" y="536.0" width="4.2" height="4.2" fill="#2e546c"/>
<rect x="994.8" y="541.2" width="4.2" height="4.2" fill="#5c8298"/>
<rect x="994.8" y="546.4" width="4.2" height="4.2" fill="#9a3456"/>
<rect x="994.8" y="551.6" width="4.2" height="4.2" fill="#a84262"/>
<rect x="994.8" y="556.8" width="4.2" height="4.2" fill="#a84262"/>
<rect x="994.8" y="562.0" width="4.2" height="4.2" fill="#6a90a8"/>
<rect x="994.8" y="567.2" width="4.2" height="4.2" fill="#5c8298"/>
<rect x="994.8" y="572.4" width="4.2" height="4.2" fill="#a84262"/>
<rect x="994.8" y="577.6" width="4.2" height="4.2" fill="#b04a68"/>
<rect x="994.8" y="582.8" width="4.2" height="4.2" fill="#456f88"/>
<rect x="994.8" y="588.0" width="4.2" height="4.2" fill="#6a90a8"/>
<rect x="994.8" y="593.2" width="4.2" height="4.2" fill="#b04a68"/>
<rect x="994.8" y="598.4" width="4.2" height="4.2" fill="#b04a68"/>
<rect x="994.8" y="603.6" width="4.2" height="4.2" fill="#456f88"/>
<rect x="994.8" y="608.8" width="4.2" height="4.2" fill="#5c8298"/>
<rect x="994.8" y="614.0" width="4.2" height="4.2" fill="#9a3456"/>
<rect x="994.8" y="619.2" width="4.2" height="4.2" fill="#2e546c"/>
<rect x="994.8" y="624.4" width="4.2" height="4.2" fill="#b04a68"/>
<rect x="994.8" y="629.6" width="4.2" height="4.2" fill="#a84262"/>
<rect x="1000.0" y="489.2" width="4.2" height="4.2" fill="#456f88"/>
<rect x="1000.0" y="494.4" width="4.2" height="4.2" fill="#a84262"/>
<rect x="1000.0" y="499.6" width="4.2" height="4.2" fill="#2e546c"/>
<rect x="1000.0" y="504.8" width="4.2" height="4.2" fill="#6a90a8"/>
<rect x="1000.0" y="510.0" width="4.2" height="4.2" fill="#34607a"/>
<rect x="1000.0" y="515.2" width="4.2" height="4.2" fill="#a84262"/>
<rect x="1000.0" y="520.4" width="4.2" height="4.2" fill="#2e546c"/>
<rect x="1000.0" y="525.6" width="4.2" height="4.2" fill="#2e546c"/>
<rect x="1000.0" y="530.8" width="4.2" height="4.2" fill="#456f88"/>
<rect x="1000.0" y="536.0" width="4.2" height="4.2" fill="#34607a"/>
<rect x="1000.0" y="541.2" width="4.2" height="4.2" fill="#a84262"/>
<rect x="1000.0" y="546.4" width="4.2" height="4.2" fill="#34607a"/>
<rect x="1000.0" y="551.6" width="4.2" height="4.2" fill="#5c8298"/>
<rect x="1000.0" y="556.8" width="4.2" height="4.2" fill="#9a3456"/>
<rect x="1000.0" y="562.0" width="4.2" height="4.2" fill="#a84262"/>
<rect x="1000.0" y="567.2" width="4.2" height="4.2" fill="#5c8298"/>
<rect x="1000.0" y="572.4" width="4.2" height="4.2" fill="#9a3456"/>
<rect x="1000.0" y="577.6" width="4.2" height="4.2" fill="#b04a68"/>
<rect x="1000.0" y="582.8" width="4.2" height="4.2" fill="#6a90a8"/>
<rect x="1000.0" y="588.0" width="4.2" height="4.2" fill="#5c8298"/>
<rect x="1000.0" y="593.2" width="4.2" height="4.2" fill="#b04a68"/>
<rect x="1000.0" y="598.4" width="4.2" height="4.2" fill="#9a3456"/>
<rect x="1000.0" y="603.6" width="4.2" height="4.2" fill="#a84262"/>
<rect x="1000.0" y="608.8" width="4.2" height="4.2" fill="#5c8298"/>
<rect x="1000.0" y="614.0" width="4.2" height="4.2" fill="#6a90a8"/>
<rect x="1000.0" y="619.2" width="4.2" height="4.2" fill="#34607a"/>
<rect x="1000.0" y="624.4" width="4.2" height="4.2" fill="#9a3456"/>
<rect x="1000.0" y="629.6" width="4.2" height="4.2" fill="#34607a"/>
<rect x="1005.2" y="489.2" width="4.2" height="4.2" fill="#2e546c"/>
<rect x="1005.2" y="494.4" width="4.2" height="4.2" fill="#a84262"/>
<rect x="1005.2" y="499.6" width="4.2" height="4.2" fill="#5c8298"/>
<rect x="1005.2" y="504.8" width="4.2" height="4.2" fill="#5c8298"/>
<rect x="1005.2" y="510.0" width="4.2" height="4.2" fill="#5c8298"/>
<rect x="1005.2" y="515.2" width="4.2" height="4.2" fill="#2e546c"/>
<rect x="1005.2" y="520.4" width="4.2" height="4.2" fill="#5c8298"/>
<rect x="1005.2" y="525.6" width="4.2" height="4.2" fill="#2e546c"/>
<rect x="1005.2" y="530.8" width="4.2" height="4.2" fill="#456f88"/>
<rect x="1005.2" y="536.0" width="4.2" height="4.2" fill="#456f88"/>
<rect x="1005.2" y="541.2" width="4.2" height="4.2" fill="#b04a68"/>
<rect x="1005.2" y="546.4" width="4.2" height="4.2" fill="#a84262"/>
<rect x="1005.2" y="551.6" width="4.2" height="4.2" fill="#5c8298"/>
<rect x="1005.2" y="556.8" width="4.2" height="4.2" fill="#2e546c"/>
<rect x="1005.2" y="562.0" width="4.2" height="4.2" fill="#5c8298"/>
<rect x="1005.2" y="567.2" width="4.2" height="4.2" fill="#2e546c"/>
<rect x="1005.2" y="572.4" width="4.2" height="4.2" fill="#a84262"/>
<rect x="1005.2" y="577.6" width="4.2" height="4.2" fill="#2e546c"/>
<rect x="1005.2" y="582.8" width="4.2" height="4.2" fill="#9a3456"/>
<rect x="1005.2" y="588.0" width="4.2" height="4.2" fill="#456f88"/>
<rect x="1005.2" y="593.2" width="4.2" height="4.2" fill="#34607a"/>
<rect x="1005.2" y="598.4" width="4.2" height="4.2" fill="#9a3456"/>
<rect x="1005.2" y="603.6" width="4.2" height="4.2" fill="#6a90a8"/>
<rect x="1005.2" y="608.8" width="4.2" height="4.2" fill="#6a90a8"/>
<rect x="1005.2" y="614.0" width="4.2" height="4.2" fill="#a84262"/>
<rect x="1005.2" y="619.2" width="4.2" height="4.2" fill="#b04a68"/>
<rect x="1005.2" y="624.4" width="4.2" height="4.2" fill="#456f88"/>
<rect x="1005.2" y="629.6" width="4.2" height="4.2" fill="#9a3456"/>
<rect x="1010.4" y="489.2" width="4.2" height="4.2" fill="#34607a"/>
<rect x="1010.4" y="494.4" width="4.2" height="4.2" fill="#b04a68"/>
<rect x="1010.4" y="499.6" width="4.2" height="4.2" fill="#5c8298"/>
<rect x="1010.4" y="504.8" width="4.2" height="4.2" fill="#a84262"/>
<rect x="1010.4" y="510.0" width="4.2" height="4.2" fill="#2e546c"/>
<rect x="1010.4" y="515.2" width="4.2" height="4.2" fill="#5c8298"/>
<rect x="1010.4" y="520.4" width="4.2" height="4.2" fill="#6a90a8"/>
<rect x="1010.4" y="525.6" width="4.2" height="4.2" fill="#9a3456"/>
<rect x="1010.4" y="530.8" width="4.2" height="4.2" fill="#5c8298"/>
<rect x="1010.4" y="536.0" width="4.2" height="4.2" fill="#6a90a8"/>
<rect x="1010.4" y="541.2" width="4.2" height="4.2" fill="#9a3456"/>
<rect x="1010.4" y="546.4" width="4.2" height="4.2" fill="#6a90a8"/>
<rect x="1010.4" y="551.6" width="4.2" height="4.2" fill="#b04a68"/>
<rect x="1010.4" y="556.8" width="4.2" height="4.2" fill="#456f88"/>
<rect x="1010.4" y="562.0" width="4.2" height="4.2" fill="#456f88"/>
<rect x="1010.4" y="567.2" width="4.2" height="4.2" fill="#6a90a8"/>
<rect x="1010.4" y="572.4" width="4.2" height="4.2" fill="#2e546c"/>
<rect x="1010.4" y="577.6" width="4.2" height="4.2" fill="#6a90a8"/>
<rect x="1010.4" y="582.8" width="4.2" height="4.2" fill="#34607a"/>
<rect x="1010.4" y="588.0" width="4.2" height="4.2" fill="#9a3456"/>
<rect x="1010.4" y="593.2" width="4.2" height="4.2" fill="#a84262"/>
<rect x="1010.4" y="598.4" width="4.2" height="4.2" fill="#456f88"/>
<rect x="1010.4" y="603.6" width="4.2" height="4.2" fill="#b04a68"/>
<rect x="1010.4" y="608.8" width="4.2" height="4.2" fill="#b04a68"/>
<rect x="1010.4" y="614.0" width="4.2" height="4.2" fill="#9a3456"/>
<rect x="1010.4" y="619.2" width="4.2" height="4.2" fill="#5c8298"/>
<rect x="1010.4" y="624.4" width="4.2" height="4.2" fill="#9a3456"/>
<rect x="1010.4" y="629.6" width="4.2" height="4.2" fill="#2e546c"/>
<rect x="1015.6" y="489.2" width="4.2" height="4.2" fill="#456f88"/>
<rect x="1015.6" y="494.4" width="4.2" height="4.2" fill="#2e546c"/>
<rect x="1015.6" y="499.6" width="4.2" height="4.2" fill="#5c8298"/>
<rect x="1015.6" y="504.8" width="4.2" height="4.2" fill="#5c8298"/>
<rect x="1015.6" y="510.0" width="4.2" height="4.2" fill="#456f88"/>
<rect x="1015.6" y="515.2" width="4.2" height="4.2" fill="#a84262"/>
<rect x="1015.6" y="520.4" width="4.2" height="4.2" fill="#a84262"/>
<rect x="1015.6" y="525.6" width="4.2" height="4.2" fill="#9a3456"/>
<rect x="1015.6" y="530.8" width="4.2" height="4.2" fill="#9a3456"/>
<rect x="1015.6" y="536.0" width="4.2" height="4.2" fill="#456f88"/>
<rect x="1015.6" y="541.2" width="4.2" height="4.2" fill="#2e546c"/>
<rect x="1015.6" y="546.4" width="4.2" height="4.2" fill="#a84262"/>
<rect x="1015.6" y="551.6" width="4.2" height="4.2" fill="#9a3456"/>
<rect x="1015.6" y="556.8" width="4.2" height="4.2" fill="#b04a68"/>
<rect x="1015.6" y="562.0" width="4.2" height="4.2" fill="#2e546c"/>
<rect x="1015.6" y="567.2" width="4.2" height="4.2" fill="#b04a68"/>
<rect x="1015.6" y="572.4" width="4.2" height="4.2" fill="#456f88"/>
<rect x="1015.6" y="577.6" width="4.2" height="4.2" fill="#6a90a8"/>
<rect x="1015.6" y="582.8" width="4.2" height="4.2" fill="#456f88"/>
<rect x="1015.6" y="588.0" width="4.2" height="4.2" fill="#5c8298"/>
<rect x="1015.6" y="593.2" width="4.2" height="4.2" fill="#9a3456"/>
<rect x="1015.6" y="598.4" width="4.2" height="4.2" fill="#a84262"/>
<rect x="1015.6" y="603.6" width="4.2" height="4.2" fill="#456f88"/>
<rect x="1015.6" y="608.8" width="4.2" height="4.2" fill="#b04a68"/>
<rect x="1015.6" y="614.0" width="4.2" height="4.2" fill="#b04a68"/>
<rect x="1015.6" y="619.2" width="4.2" height="4.2" fill="#a84262"/>
<rect x="1015.6" y="624.4" width="4.2" height="4.2" fill="#456f88"/>
<rect x="1015.6" y="629.6" width="4.2" height="4.2" fill="#456f88"/>
<rect x="1020.8" y="489.2" width="4.2" height="4.2" fill="#456f88"/>
<rect x="1020.8" y="494.4" width="4.2" height="4.2" fill="#34607a"/>
<rect x="1020.8" y="499.6" width="4.2" height="4.2" fill="#5c8298"/>
<rect x="1020.8" y="504.8" width="4.2" height="4.2" fill="#2e546c"/>
<rect x="1020.8" y="510.0" width="4.2" height="4.2" fill="#2e546c"/>
<rect x="1020.8" y="515.2" width="4.2" height="4.2" fill="#5c8298"/>
<rect x="1020.8" y="520.4" width="4.2" height="4.2" fill="#b04a68"/>
<rect x="1020.8" y="525.6" width="4.2" height="4.2" fill="#34607a"/>
<rect x="1020.8" y="530.8" width="4.2" height="4.2" fill="#5c8298"/>
<rect x="1020.8" y="536.0" width="4.2" height="4.2" fill="#9a3456"/>
<rect x="1020.8" y="541.2" width="4.2" height="4.2" fill="#34607a"/>
<rect x="1020.8" y="546.4" width="4.2" height="4.2" fill="#34607a"/>
<rect x="1020.8" y="551.6" width="4.2" height="4.2" fill="#9a3456"/>
<rect x="1020.8" y="556.8" width="4.2" height="4.2" fill="#34607a"/>
<rect x="1020.8" y="562.0" width="4.2" height="4.2" fill="#9a3456"/>
<rect x="1020.8" y="567.2" width="4.2" height="4.2" fill="#6a90a8"/>
<rect x="1020.8" y="572.4" width="4.2" height="4.2" fill="#6a90a8"/>
<rect x="1020.8" y="577.6" width="4.2" height="4.2" fill="#34607a"/>
<rect x="1020.8" y="582.8" width="4.2" height="4.2" fill="#2e546c"/>
<rect x="1020.8" y="588.0" width="4.2" height="4.2" fill="#6a90a8"/>
<rect x="1020.8" y="593.2" width="4.2" height="4.2" fill="#34607a"/>
<rect x="1020.8" y="598.4" width="4.2" height="4.2" fill="#6a90a8"/>
<rect x="1020.8" y="603.6" width="4.2" height="4.2" fill="#34607a"/>
<rect x="1020.8" y="608.8" width="4.2" height="4.2" fill="#9a3456"/>
<rect x="1020.8" y="614.0" width="4.2" height="4.2" fill="#6a90a8"/>
<rect x="1020.8" y="619.2" width="4.2" height="4.2" fill="#5c8298"/>
<rect x="1020.8" y="624.4" width="4.2" height="4.2" fill="#6a90a8"/>
<rect x="1020.8" y="629.6" width="4.2" height="4.2" fill="#2e546c"/>
<rect x="1026.0" y="489.2" width="4.2" height="4.2" fill="#34607a"/>
<rect x="1026.0" y="494.4" width="4.2" height="4.2" fill="#9a3456"/>
<rect x="1026.0" y="499.6" width="4.2" height="4.2" fill="#6a90a8"/>
<rect x="1026.0" y="504.8" width="4.2" height="4.2" fill="#456f88"/>
<rect x="1026.0" y="510.0" width="4.2" height="4.2" fill="#5c8298"/>
<rect x="1026.0" y="515.2" width="4.2" height="4.2" fill="#456f88"/>
<rect x="1026.0" y="520.4" width="4.2" height="4.2" fill="#6a90a8"/>
<rect x="1026.0" y="525.6" width="4.2" height="4.2" fill="#34607a"/>
<rect x="1026.0" y="530.8" width="4.2" height="4.2" fill="#2e546c"/>
<rect x="1026.0" y="536.0" width="4.2" height="4.2" fill="#9a3456"/>
<rect x="1026.0" y="541.2" width="4.2" height="4.2" fill="#2e546c"/>
<rect x="1026.0" y="546.4" width="4.2" height="4.2" fill="#5c8298"/>
<rect x="1026.0" y="551.6" width="4.2" height="4.2" fill="#34607a"/>
<rect x="1026.0" y="556.8" width="4.2" height="4.2" fill="#34607a"/>
<rect x="1026.0" y="562.0" width="4.2" height="4.2" fill="#b04a68"/>
<rect x="1026.0" y="567.2" width="4.2" height="4.2" fill="#9a3456"/>
<rect x="1026.0" y="572.4" width="4.2" height="4.2" fill="#9a3456"/>
<rect x="1026.0" y="577.6" width="4.2" height="4.2" fill="#9a3456"/>
<rect x="1026.0" y="582.8" width="4.2" height="4.2" fill="#a84262"/>
<rect x="1026.0" y="588.0" width="4.2" height="4.2" fill="#a84262"/>
<rect x="1026.0" y="593.2" width="4.2" height="4.2" fill="#9a3456"/>
<rect x="1026.0" y="598.4" width="4.2" height="4.2" fill="#456f88"/>
<rect x="1026.0" y="603.6" width="4.2" height="4.2" fill="#a84262"/>
<rect x="1026.0" y="608.8" width="4.2" height="4.2" fill="#456f88"/>
<rect x="1026.0" y="614.0" width="4.2" height="4.2" fill="#9a3456"/>
<rect x="1026.0" y="619.2" width="4.2" height="4.2" fill="#34607a"/>
<rect x="1026.0" y="624.4" width="4.2" height="4.2" fill="#2e546c"/>
<rect x="1026.0" y="629.6" width="4.2" height="4.2" fill="#9a3456"/>
<rect x="1031.2" y="489.2" width="4.2" height="4.2" fill="#a84262"/>
<rect x="1031.2" y="494.4" width="4.2" height="4.2" fill="#456f88"/>
<rect x="1031.2" y="499.6" width="4.2" height="4.2" fill="#a84262"/>
<rect x="1031.2" y="504.8" width="4.2" height="4.2" fill="#6a90a8"/>
<rect x="1031.2" y="510.0" width="4.2" height="4.2" fill="#5c8298"/>
<rect x="1031.2" y="515.2" width="4.2" height="4.2" fill="#456f88"/>
<rect x="1031.2" y="520.4" width="4.2" height="4.2" fill="#9a3456"/>
<rect x="1031.2" y="525.6" width="4.2" height="4.2" fill="#a84262"/>
<rect x="1031.2" y="530.8" width="4.2" height="4.2" fill="#456f88"/>
<rect x="1031.2" y="536.0" width="4.2" height="4.2" fill="#b04a68"/>
<rect x="1031.2" y="541.2" width="4.2" height="4.2" fill="#5c8298"/>
<rect x="1031.2" y="546.4" width="4.2" height="4.2" fill="#b04a68"/>
<rect x="1031.2" y="551.6" width="4.2" height="4.2" fill="#456f88"/>
<rect x="1031.2" y="556.8" width="4.2" height="4.2" fill="#5c8298"/>
<rect x="1031.2" y="562.0" width="4.2" height="4.2" fill="#a84262"/>
<rect x="1031.2" y="567.2" width="4.2" height="4.2" fill="#34607a"/>
<rect x="1031.2" y="572.4" width="4.2" height="4.2" fill="#a84262"/>
<rect x="1031.2" y="577.6" width="4.2" height="4.2" fill="#a84262"/>
<rect x="1031.2" y="582.8" width="4.2" height="4.2" fill="#2e546c"/>
<rect x="1031.2" y="588.0" width="4.2" height="4.2" fill="#456f88"/>
<rect x="1031.2" y="593.2" width="4.2" height="4.2" fill="#a84262"/>
<rect x="1031.2" y="598.4" width="4.2" height="4.2" fill="#b04a68"/>
<rect x="1031.2" y="603.6" width="4.2" height="4.2" fill="#2e546c"/>
<rect x="1031.2" y="608.8" width="4.2" height="4.2" fill="#34607a"/>
<rect x="1031.2" y="614.0" width="4.2" height="4.2" fill="#2e546c"/>
<rect x="1031.2" y="619.2" width="4.2" height="4.2" fill="#6a90a8"/>
<rect x="1031.2" y="624.4" width="4.2" height="4.2" fill="#b04a68"/>
<rect x="1031.2" y="629.6" width="4.2" height="4.2" fill="#a84262"/>
<rect x="1036.4" y="489.2" width="4.2" height="4.2" fill="#b04a68"/>
<rect x="1036.4" y="494.4" width="4.2" height="4.2" fill="#b04a68"/>
<rect x="1036.4" y="499.6" width="4.2" height="4.2" fill="#a84262"/>
<rect x="1036.4" y="504.8" width="4.2" height="4.2" fill="#9a3456"/>
<rect x="1036.4" y="510.0" width="4.2" height="4.2" fill="#2e546c"/>
<rect x="1036.4" y="515.2" width="4.2" height="4.2" fill="#6a90a8"/>
<rect x="1036.4" y="520.4" width="4.2" height="4.2" fill="#2e546c"/>
<rect x="1036.4" y="525.6" width="4.2" height="4.2" fill="#2e546c"/>
<rect x="1036.4" y="530.8" width="4.2" height="4.2" fill="#34607a"/>
<rect x="1036.4" y="536.0" width="4.2" height="4.2" fill="#34607a"/>
<rect x="1036.4" y="541.2" width="4.2" height="4.2" fill="#9a3456"/>
<rect x="1036.4" y="546.4" width="4.2" height="4.2" fill="#6a90a8"/>
<rect x="1036.4" y="551.6" width="4.2" height="4.2" fill="#5c8298"/>
<rect x="1036.4" y="556.8" width="4.2" height="4.2" fill="#2e546c"/>
<rect x="1036.4" y="562.0" width="4.2" height="4.2" fill="#6a90a8"/>
<rect x="1036.4" y="567.2" width="4.2" height="4.2" fill="#6a90a8"/>
<rect x="1036.4" y="572.4" width="4.2" height="4.2" fill="#b04a68"/>
<rect x="1036.4" y="577.6" width="4.2" height="4.2" fill="#a84262"/>
<rect x="1036.4" y="582.8" width="4.2" height="4.2" fill="#a84262"/>
<rect x="1036.4" y="588.0" width="4.2" height="4.2" fill="#2e546c"/>
<rect x="1036.4" y="593.2" width="4.2" height="4.2" fill="#a84262"/>
<rect x="1036.4" y="598.4" width="4.2" height="4.2" fill="#9a3456"/>
<rect x="1036.4" y="603.6" width="4.2" height="4.2" fill="#9a3456"/>
<rect x="1036.4" y="608.8" width="4.2" height="4.2" fill="#5c8298"/>
<rect x="1036.4" y="614.0" width="4.2" height="4.2" fill="#456f88"/>
<rect x="1036.4" y="619.2" width="4.2" height="4.2" fill="#6a90a8"/>
<rect x="1036.4" y="624.4" width="4.2" height="4.2" fill="#b04a68"/>
<rect x="1036.4" y="629.6" width="4.2" height="4.2" fill="#9a3456"/>
<rect x="1041.6" y="489.2" width="4.2" height="4.2" fill="#34607a"/>
<rect x="1041.6" y="494.4" width="4.2" height="4.2" fill="#b04a68"/>
<rect x="1041.6" y="499.6" width="4.2" height="4.2" fill="#6a90a8"/>
<rect x="1041.6" y="504.8" width="4.2" height="4.2" fill="#456f88"/>
<rect x="1041.6" y="510.0" width="4.2" height="4.2" fill="#2e546c"/>
<rect x="1041.6" y="515.2" width="4.2" height="4.2" fill="#5c8298"/>
<rect x="1041.6" y="520.4" width="4.2" height="4.2" fill="#34607a"/>
<rect x="1041.6" y="525.6" width="4.2" height="4.2" fill="#6a90a8"/>
<rect x="1041.6" y="530.8" width="4.2" height="4.2" fill="#6a90a8"/>
<rect x="1041.6" y="536.0" width="4.2" height="4.2" fill="#5c8298"/>
<rect x="1041.6" y="541.2" width="4.2" height="4.2" fill="#2e546c"/>
<rect x="1041.6" y="546.4" width="4.2" height="4.2" fill="#a84262"/>
<rect x="1041.6" y="551.6" width="4.2" height="4.2" fill="#456f88"/>
<rect x="1041.6" y="556.8" width="4.2" height="4.2" fill="#b04a68"/>
<rect x="1041.6" y="562.0" width="4.2" height="4.2" fill="#a84262"/>
<rect x="1041.6" y="567.2" width="4.2" height="4.2" fill="#5c8298"/>
<rect x="1041.6" y="572.4" width="4.2" height="4.2" fill="#34607a"/>
<rect x="1041.6" y="577.6" width="4.2" height="4.2" fill="#456f88"/>
<rect x="1041.6" y="582.8" width="4.2" height="4.2" fill="#9a3456"/>
<rect x="1041.6" y="588.0" width="4.2" height="4.2" fill="#34607a"/>
<rect x="1041.6" y="593.2" width="4.2" height="4.2" fill="#456f88"/>
<rect x="1041.6" y="598.4" width="4.2" height="4.2" fill="#b04a68"/>
<rect x="1041.6" y="603.6" width="4.2" height="4.2" fill="#34607a"/>
<rect x="1041.6" y="608.8" width="4.2" height="4.2" fill="#5c8298"/>
<rect x="1041.6" y="614.0" width="4.2" height="4.2" fill="#34607a"/>
<rect x="1041.6" y="619.2" width="4.2" height="4.2" fill="#a84262"/>
<rect x="1041.6" y="624.4" width="4.2" height="4.2" fill="#456f88"/>
<rect x="1041.6" y="629.6" width="4.2" height="4.2" fill="#34607a"/>
<rect x="1046.8" y="489.2" width="4.2" height="4.2" fill="#b04a68"/>
<rect x="1046.8" y="494.4" width="4.2" height="4.2" fill="#b04a68"/>
<rect x="1046.8" y="499.6" width="4.2" height="4.2" fill="#a84262"/>
<rect x="1046.8" y="504.8" width="4.2" height="4.2" fill="#6a90a8"/>
<rect x="1046.8" y="510.0" width="4.2" height="4.2" fill="#a84262"/>
<rect x="1046.8" y="515.2" width="4.2" height="4.2" fill="#6a90a8"/>
<rect x="1046.8" y="520.4" width="4.2" height="4.2" fill="#34607a"/>
<rect x="1046.8" y="525.6" width="4.2" height="4.2" fill="#34607a"/>
<rect x="1046.8" y="530.8" width="4.2" height="4.2" fill="#6a90a8"/>
<rect x="1046.8" y="536.0" width="4.2" height="4.2" fill="#9a3456"/>
<rect x="1046.8" y="541.2" width="4.2" height="4.2" fill="#b04a68"/>
<rect x="1046.8" y="546.4" width="4.2" height="4.2" fill="#34607a"/>
<rect x="1046.8" y="551.6" width="4.2" height="4.2" fill="#b04a68"/>
<rect x="1046.8" y="556.8" width="4.2" height="4.2" fill="#a84262"/>
<rect x="1046.8" y="562.0" width="4.2" height="4.2" fill="#5c8298"/>
<rect x="1046.8" y="567.2" width="4.2" height="4.2" fill="#a84262"/>
<rect x="1046.8" y="572.4" width="4.2" height="4.2" fill="#5c8298"/>
<rect x="1046.8" y="577.6" width="4.2" height="4.2" fill="#34607a"/>
<rect x="1046.8" y="582.8" width="4.2" height="4.2" fill="#34607a"/>
<rect x="1046.8" y="588.0" width="4.2" height="4.2" fill="#2e546c"/>
<rect x="1046.8" y="593.2" width="4.2" height="4.2" fill="#456f88"/>
<rect x="1046.8" y="598.4" width="4.2" height="4.2" fill="#6a90a8"/>
<rect x="1046.8" y="603.6" width="4.2" height="4.2" fill="#6a90a8"/>
<rect x="1046.8" y="608.8" width="4.2" height="4.2" fill="#2e546c"/>
<rect x="1046.8" y="614.0" width="4.2" height="4.2" fill="#6a90a8"/>
<rect x="1046.8" y="619.2" width="4.2" height="4.2" fill="#2e546c"/>
<rect x="1046.8" y="624.4" width="4.2" height="4.2" fill="#34607a"/>
<rect x="1046.8" y="629.6" width="4.2" height="4.2" fill="#9a3456"/>
<rect x="1052.0" y="489.2" width="4.2" height="4.2" fill="#9a3456"/>
<rect x="1052.0" y="494.4" width="4.2" height="4.2" fill="#9a3456"/>
<rect x="1052.0" y="499.6" width="4.2" height="4.2" fill="#a84262"/>
<rect x="1052.0" y="504.8" width="4.2" height="4.2" fill="#b04a68"/>
<rect x="1052.0" y="510.0" width="4.2" height="4.2" fill="#a84262"/>
<rect x="1052.0" y="515.2" width="4.2" height="4.2" fill="#a84262"/>
<rect x="1052.0" y="520.4" width="4.2" height="4.2" fill="#34607a"/>
<rect x="1052.0" y="525.6" width="4.2" height="4.2" fill="#34607a"/>
<rect x="1052.0" y="530.8" width="4.2" height="4.2" fill="#34607a"/>
<rect x="1052.0" y="536.0" width="4.2" height="4.2" fill="#b04a68"/>
<rect x="1052.0" y="541.2" width="4.2" height="4.2" fill="#6a90a8"/>
<rect x="1052.0" y="546.4" width="4.2" height="4.2" fill="#9a3456"/>
<rect x="1052.0" y="551.6" width="4.2" height="4.2" fill="#6a90a8"/>
<rect x="1052.0" y="556.8" width="4.2" height="4.2" fill="#b04a68"/>
<rect x="1052.0" y="562.0" width="4.2" height="4.2" fill="#9a3456"/>
<rect x="1052.0" y="567.2" width="4.2" height="4.2" fill="#456f88"/>
<rect x="1052.0" y="572.4" width="4.2" height="4.2" fill="#2e546c"/>
<rect x="1052.0" y="577.6" width="4.2" height="4.2" fill="#456f88"/>
<rect x="1052.0" y="582.8" width="4.2" height="4.2" fill="#34607a"/>
<rect x="1052.0" y="588.0" width="4.2" height="4.2" fill="#6a90a8"/>
<rect x="1052.0" y="593.2" width="4.2" height="4.2" fill="#34607a"/>
<rect x="1052.0" y="598.4" width="4.2" height="4.2" fill="#5c8298"/>
<rect x="1052.0" y="603.6" width="4.2" height="4.2" fill="#2e546c"/>
<rect x="1052.0" y="608.8" width="4.2" height="4.2" fill="#34607a"/>
<rect x="1052.0" y="614.0" width="4.2" height="4.2" fill="#b04a68"/>
<rect x="1052.0" y="619.2" width="4.2" height="4.2" fill="#34607a"/>
<rect x="1052.0" y="624.4" width="4.2" height="4.2" fill="#b04a68"/>
<rect x="1052.0" y="629.6" width="4.2" height="4.2" fill="#6a90a8"/>
<rect x="1057.2" y="489.2" width="4.2" height="4.2" fill="#456f88"/>
<rect x="1057.2" y="494.4" width="4.2" height="4.2" fill="#5c8298"/>
<rect x="1057.2" y="499.6" width="4.2" height="4.2" fill="#6a90a8"/>
<rect x="1057.2" y="504.8" width="4.2" height="4.2" fill="#6a90a8"/>
<rect x="1057.2" y="510.0" width="4.2" height="4.2" fill="#6a90a8"/>
<rect x="1057.2" y="515.2" width="4.2" height="4.2" fill="#456f88"/>
<rect x="1057.2" y="520.4" width="4.2" height="4.2" fill="#a84262"/>
<rect x="1057.2" y="525.6" width="4.2" height="4.2" fill="#5c8298"/>
<rect x="1057.2" y="530.8" width="4.2" height="4.2" fill="#456f88"/>
<rect x="1057.2" y="536.0" width="4.2" height="4.2" fill="#a84262"/>
<rect x="1057.2" y="541.2" width="4.2" height="4.2" fill="#6a90a8"/>
<rect x="1057.2" y="546.4" width="4.2" height="4.2" fill="#34607a"/>
<rect x="1057.2" y="551.6" width="4.2" height="4.2" fill="#5c8298"/>
<rect x="1057.2" y="556.8" width="4.2" height="4.2" fill="#a84262"/>
<rect x="1057.2" y="562.0" width="4.2" height="4.2" fill="#2e546c"/>
<rect x="1057.2" y="567.2" width="4.2" height="4.2" fill="#2e546c"/>
<rect x="1057.2" y="572.4" width="4.2" height="4.2" fill="#34607a"/>
<rect x="1057.2" y="577.6" width="4.2" height="4.2" fill="#5c8298"/>
<rect x="1057.2" y="582.8" width="4.2" height="4.2" fill="#9a3456"/>
<rect x="1057.2" y="588.0" width="4.2" height="4.2" fill="#456f88"/>
<rect x="1057.2" y="593.2" width="4.2" height="4.2" fill="#6a90a8"/>
<rect x="1057.2" y="598.4" width="4.2" height="4.2" fill="#9a3456"/>
<rect x="1057.2" y="603.6" width="4.2" height="4.2" fill="#34607a"/>
<rect x="1057.2" y="608.8" width="4.2" height="4.2" fill="#9a3456"/>
<rect x="1057.2" y="614.0" width="4.2" height="4.2" fill="#9a3456"/>
<rect x="1057.2" y="619.2" width="4.2" height="4.2" fill="#a84262"/>
<rect x="1057.2" y="624.4" width="4.2" height="4.2" fill="#9a3456"/>
<rect x="1057.2" y="629.6" width="4.2" height="4.2" fill="#a84262"/>
<rect x="1062.4" y="489.2" width="4.2" height="4.2" fill="#34607a"/>
<rect x="1062.4" y="494.4" width="4.2" height="4.2" fill="#456f88"/>
<rect x="1062.4" y="499.6" width="4.2" height="4.2" fill="#9a3456"/>
<rect x="1062.4" y="504.8" width="4.2" height="4.2" fill="#9a3456"/>
<rect x="1062.4" y="510.0" width="4.2" height="4.2" fill="#2e546c"/>
<rect x="1062.4" y="515.2" width="4.2" height="4.2" fill="#5c8298"/>
<rect x="1062.4" y="520.4" width="4.2" height="4.2" fill="#b04a68"/>
<rect x="1062.4" y="525.6" width="4.2" height="4.2" fill="#a84262"/>
<rect x="1062.4" y="530.8" width="4.2" height="4.2" fill="#5c8298"/>
<rect x="1062.4" y="536.0" width="4.2" height="4.2" fill="#2e546c"/>
<rect x="1062.4" y="541.2" width="4.2" height="4.2" fill="#34607a"/>
<rect x="1062.4" y="546.4" width="4.2" height="4.2" fill="#456f88"/>
<rect x="1062.4" y="551.6" width="4.2" height="4.2" fill="#5c8298"/>
<rect x="1062.4" y="556.8" width="4.2" height="4.2" fill="#5c8298"/>
<rect x="1062.4" y="562.0" width="4.2" height="4.2" fill="#456f88"/>
<rect x="1062.4" y="567.2" width="4.2" height="4.2" fill="#9a3456"/>
<rect x="1062.4" y="572.4" width="4.2" height="4.2" fill="#456f88"/>
<rect x="1062.4" y="577.6" width="4.2" height="4.2" fill="#456f88"/>
<rect x="1062.4" y="582.8" width="4.2" height="4.2" fill="#5c8298"/>
<rect x="1062.4" y="588.0" width="4.2" height="4.2" fill="#b04a68"/>
<rect x="1062.4" y="593.2" width="4.2" height="4.2" fill="#b04a68"/>
<rect x="1062.4" y="598.4" width="4.2" height="4.2" fill="#34607a"/>
<rect x="1062.4" y="603.6" width="4.2" height="4.2" fill="#9a3456"/>
<rect x="1062.4" y="608.8" width="4.2" height="4.2" fill="#9a3456"/>
<rect x="1062.4" y="614.0" width="4.2" height="4.2" fill="#6a90a8"/>
<rect x="1062.4" y="619.2" width="4.2" height="4.2" fill="#5c8298"/>
<rect x="1062.4" y="624.4" width="4.2" height="4.2" fill="#2e546c"/>
<rect x="1062.4" y="629.6" width="4.2" height="4.2" fill="#6a90a8"/>
<rect x="1067.6" y="489.2" width="4.2" height="4.2" fill="#a84262"/>
<rect x="1067.6" y="494.4" width="4.2" height="4.2" fill="#5c8298"/>
<rect x="1067.6" y="499.6" width="4.2" height="4.2" fill="#9a3456"/>
<rect x="1067.6" y="504.8" width="4.2" height="4.2" fill="#a84262"/>
<rect x="1067.6" y="510.0" width="4.2" height="4.2" fill="#456f88"/>
<rect x="1067.6" y="515.2" width="4.2" height="4.2" fill="#456f88"/>
<rect x="1067.6" y="520.4" width="4.2" height="4.2" fill="#6a90a8"/>
<rect x="1067.6" y="525.6" width="4.2" height="4.2" fill="#2e546c"/>
<rect x="1067.6" y="530.8" width="4.2" height="4.2" fill="#b04a68"/>
<rect x="1067.6" y="536.0" width="4.2" height="4.2" fill="#34607a"/>
<rect x="1067.6" y="541.2" width="4.2" height="4.2" fill="#9a3456"/>
<rect x="1067.6" y="546.4" width="4.2" height="4.2" fill="#9a3456"/>
<rect x="1067.6" y="551.6" width="4.2" height="4.2" fill="#2e546c"/>
<rect x="1067.6" y="556.8" width="4.2" height="4.2" fill="#34607a"/>
<rect x="1067.6" y="562.0" width="4.2" height="4.2" fill="#9a3456"/>
<rect x="1067.6" y="567.2" width="4.2" height="4.2" fill="#b04a68"/>
<rect x="1067.6" y="572.4" width="4.2" height="4.2" fill="#9a3456"/>
<rect x="1067.6" y="577.6" width="4.2" height="4.2" fill="#2e546c"/>
<rect x="1067.6" y="582.8" width="4.2" height="4.2" fill="#2e546c"/>
<rect x="1067.6" y="588.0" width="4.2" height="4.2" fill="#2e546c"/>
<rect x="1067.6" y="593.2" width="4.2" height="4.2" fill="#9a3456"/>
<rect x="1067.6" y="598.4" width="4.2" height="4.2" fill="#5c8298"/>
<rect x="1067.6" y="603.6" width="4.2" height="4.2" fill="#5c8298"/>
<rect x="1067.6" y="608.8" width="4.2" height="4.2" fill="#6a90a8"/>
<rect x="1067.6" y="614.0" width="4.2" height="4.2" fill="#9a3456"/>
<rect x="1067.6" y="619.2" width="4.2" height="4.2" fill="#b04a68"/>
<rect x="1067.6" y="624.4" width="4.2" height="4.2" fill="#a84262"/>
<rect x="1067.6" y="629.6" width="4.2" height="4.2" fill="#34607a"/>
<rect x="1072.8" y="489.2" width="4.2" height="4.2" fill="#a84262"/>
<rect x="1072.8" y="494.4" width="4.2" height="4.2" fill="#b04a68"/>
<rect x="1072.8" y="499.6" width="4.2" height="4.2" fill="#456f88"/>
<rect x="1072.8" y="504.8" width="4.2" height="4.2" fill="#2e546c"/>
<rect x="1072.8" y="510.0" width="4.2" height="4.2" fill="#34607a"/>
<rect x="1072.8" y="515.2" width="4.2" height="4.2" fill="#2e546c"/>
<rect x="1072.8" y="520.4" width="4.2" height="4.2" fill="#34607a"/>
<rect x="1072.8" y="525.6" width="4.2" height="4.2" fill="#a84262"/>
<rect x="1072.8" y="530.8" width="4.2" height="4.2" fill="#34607a"/>
<rect x="1072.8" y="536.0" width="4.2" height="4.2" fill="#b04a68"/>
<rect x="1072.8" y="541.2" width="4.2" height="4.2" fill="#9a3456"/>
<rect x="1072.8" y="546.4" width="4.2" height="4.2" fill="#2e546c"/>
<rect x="1072.8" y="551.6" width="4.2" height="4.2" fill="#456f88"/>
<rect x="1072.8" y="556.8" width="4.2" height="4.2" fill="#5c8298"/>
<rect x="1072.8" y="562.0" width="4.2" height="4.2" fill="#5c8298"/>
<rect x="1072.8" y="567.2" width="4.2" height="4.2" fill="#6a90a8"/>
<rect x="1072.8" y="572.4" width="4.2" height="4.2" fill="#34607a"/>
<rect x="1072.8" y="577.6" width="4.2" height="4.2" fill="#5c8298"/>
<rect x="1072.8" y="582.8" width="4.2" height="4.2" fill="#9a3456"/>
<rect x="1072.8" y="588.0" width="4.2" height="4.2" fill="#a84262"/>
<rect x="1072.8" y="593.2" width="4.2" height="4.2" fill="#34607a"/>
<rect x="1072.8" y="598.4" width="4.2" height="4.2" fill="#6a90a8"/>
<rect x="1072.8" y="603.6" width="4.2" height="4.2" fill="#456f88"/>
<rect x="1072.8" y="608.8" width="4.2" height="4.2" fill="#6a90a8"/>
<rect x="1072.8" y="614.0" width="4.2" height="4.2" fill="#34607a"/>
<rect x="1072.8" y="619.2" width="4.2" height="4.2" fill="#6a90a8"/>
<rect x="1072.8" y="624.4" width="4.2" height="4.2" fill="#34607a"/>
<rect x="1072.8" y="629.6" width="4.2" height="4.2" fill="#456f88"/>
<rect x="1078.0" y="489.2" width="4.2" height="4.2" fill="#456f88"/>
<rect x="1078.0" y="494.4" width="4.2" height="4.2" fill="#34607a"/>
<rect x="1078.0" y="499.6" width="4.2" height="4.2" fill="#6a90a8"/>
<rect x="1078.0" y="504.8" width="4.2" height="4.2" fill="#2e546c"/>
<rect x="1078.0" y="510.0" width="4.2" height="4.2" fill="#34607a"/>
<rect x="1078.0" y="515.2" width="4.2" height="4.2" fill="#2e546c"/>
<rect x="1078.0" y="520.4" width="4.2" height="4.2" fill="#b04a68"/>
<rect x="1078.0" y="525.6" width="4.2" height="4.2" fill="#a84262"/>
<rect x="1078.0" y="530.8" width="4.2" height="4.2" fill="#6a90a8"/>
<rect x="1078.0" y="536.0" width="4.2" height="4.2" fill="#2e546c"/>
<rect x="1078.0" y="541.2" width="4.2" height="4.2" fill="#34607a"/>
<rect x="1078.0" y="546.4" width="4.2" height="4.2" fill="#9a3456"/>
<rect x="1078.0" y="551.6" width="4.2" height="4.2" fill="#a84262"/>
<rect x="1078.0" y="556.8" width="4.2" height="4.2" fill="#9a3456"/>
<rect x="1078.0" y="562.0" width="4.2" height="4.2" fill="#6a90a8"/>
<rect x="1078.0" y="567.2" width="4.2" height="4.2" fill="#5c8298"/>
<rect x="1078.0" y="572.4" width="4.2" height="4.2" fill="#2e546c"/>
<rect x="1078.0" y="577.6" width="4.2" height="4.2" fill="#5c8298"/>
<rect x="1078.0" y="582.8" width="4.2" height="4.2" fill="#456f88"/>
<rect x="1078.0" y="588.0" width="4.2" height="4.2" fill="#2e546c"/>
<rect x="1078.0" y="593.2" width="4.2" height="4.2" fill="#a84262"/>
<rect x="1078.0" y="598.4" width="4.2" height="4.2" fill="#5c8298"/>
<rect x="1078.0" y="603.6" width="4.2" height="4.2" fill="#b04a68"/>
<rect x="1078.0" y="608.8" width="4.2" height="4.2" fill="#b04a68"/>
<rect x="1078.0" y="614.0" width="4.2" height="4.2" fill="#2e546c"/>
<rect x="1078.0" y="619.2" width="4.2" height="4.2" fill="#5c8298"/>
<rect x="1078.0" y="624.4" width="4.2" height="4.2" fill="#6a90a8"/>
<rect x="1078.0" y="629.6" width="4.2" height="4.2" fill="#6a90a8"/>
<rect x="1083.2" y="489.2" width="4.2" height="4.2" fill="#2e546c"/>
<rect x="1083.2" y="494.4" width="4.2" height="4.2" fill="#34607a"/>
<rect x="1083.2" y="499.6" width="4.2" height="4.2" fill="#34607a"/>
<rect x="1083.2" y="504.8" width="4.2" height="4.2" fill="#2e546c"/>
<rect x="1083.2" y="510.0" width="4.2" height="4.2" fill="#a84262"/>
<rect x="1083.2" y="515.2" width="4.2" height="4.2" fill="#b04a68"/>
<rect x="1083.2" y="520.4" width="4.2" height="4.2" fill="#2e546c"/>
<rect x="1083.2" y="525.6" width="4.2" height="4.2" fill="#2e546c"/>
<rect x="1083.2" y="530.8" width="4.2" height="4.2" fill="#b04a68"/>
<rect x="1083.2" y="536.0" width="4.2" height="4.2" fill="#5c8298"/>
<rect x="1083.2" y="541.2" width="4.2" height="4.2" fill="#a84262"/>
<rect x="1083.2" y="546.4" width="4.2" height="4.2" fill="#b04a68"/>
<rect x="1083.2" y="551.6" width="4.2" height="4.2" fill="#6a90a8"/>
<rect x="1083.2" y="556.8" width="4.2" height="4.2" fill="#2e546c"/>
<rect x="1083.2" y="562.0" width="4.2" height="4.2" fill="#34607a"/>
<rect x="1083.2" y="567.2" width="4.2" height="4.2" fill="#2e546c"/>
<rect x="1083.2" y="572.4" width="4.2" height="4.2" fill="#5c8298"/>
<rect x="1083.2" y="577.6" width="4.2" height="4.2" fill="#456f88"/>
<rect x="1083.2" y="582.8" width="4.2" height="4.2" fill="#456f88"/>
<rect x="1083.2" y="588.0" width="4.2" height="4.2" fill="#a84262"/>
<rect x="1083.2" y="593.2" width="4.2" height="4.2" fill="#34607a"/>
<rect x="1083.2" y="598.4" width="4.2" height="4.2" fill="#9a3456"/>
<rect x="1083.2" y="603.6" width="4.2" height="4.2" fill="#5c8298"/>
<rect x="1083.2" y="608.8" width="4.2" height="4.2" fill="#a84262"/>
<rect x="1083.2" y="614.0" width="4.2" height="4.2" fill="#9a3456"/>
<rect x="1083.2" y="619.2" width="4.2" height="4.2" fill="#34607a"/>
<rect x="1083.2" y="624.4" width="4.2" height="4.2" fill="#456f88"/>
<rect x="1083.2" y="629.6" width="4.2" height="4.2" fill="#5c8298"/>
<rect x="1088.4" y="489.2" width="4.2" height="4.2" fill="#2e546c"/>
<rect x="1088.4" y="494.4" width="4.2" height="4.2" fill="#6a90a8"/>
<rect x="1088.4" y="499.6" width="4.2" height="4.2" fill="#2e546c"/>
<rect x="1088.4" y="504.8" width="4.2" height="4.2" fill="#456f88"/>
<rect x="1088.4" y="510.0" width="4.2" height="4.2" fill="#456f88"/>
<rect x="1088.4" y="515.2" width="4.2" height="4.2" fill="#6a90a8"/>
<rect x="1088.4" y="520.4" width="4.2" height="4.2" fill="#a84262"/>
<rect x="1088.4" y="525.6" width="4.2" height="4.2" fill="#2e546c"/>
<rect x="1088.4" y="530.8" width="4.2" height="4.2" fill="#456f88"/>
<rect x="1088.4" y="536.0" width="4.2" height="4.2" fill="#a84262"/>
<rect x="1088.4" y="541.2" width="4.2" height="4.2" fill="#456f88"/>
<rect x="1088.4" y="546.4" width="4.2" height="4.2" fill="#2e546c"/>
<rect x="1088.4" y="551.6" width="4.2" height="4.2" fill="#a84262"/>
<rect x="1088.4" y="556.8" width="4.2" height="4.2" fill="#5c8298"/>
<rect x="1088.4" y="562.0" width="4.2" height="4.2" fill="#34607a"/>
<rect x="1088.4" y="567.2" width="4.2" height="4.2" fill="#a84262"/>
<rect x="1088.4" y="572.4" width="4.2" height="4.2" fill="#6a90a8"/>
<rect x="1088.4" y="577.6" width="4.2" height="4.2" fill="#34607a"/>
<rect x="1088.4" y="582.8" width="4.2" height="4.2" fill="#b04a68"/>
<rect x="1088.4" y="588.0" width="4.2" height="4.2" fill="#5c8298"/>
<rect x="1088.4" y="593.2" width="4.2" height="4.2" fill="#a84262"/>
<rect x="1088.4" y="598.4" width="4.2" height="4.2" fill="#5c8298"/>
<rect x="1088.4" y="603.6" width="4.2" height="4.2" fill="#9a3456"/>
<rect x="1088.4" y="608.8" width="4.2" height="4.2" fill="#6a90a8"/>
<rect x="1088.4" y="614.0" width="4.2" height="4.2" fill="#6a90a8"/>
<rect x="1088.4" y="619.2" width="4.2" height="4.2" fill="#34607a"/>
<rect x="1088.4" y="624.4" width="4.2" height="4.2" fill="#9a3456"/>
<rect x="1088.4" y="629.6" width="4.2" height="4.2" fill="#b04a68"/>
<rect x="1093.6" y="489.2" width="4.2" height="4.2" fill="#2e546c"/>
<rect x="1093.6" y="494.4" width="4.2" height="4.2" fill="#34607a"/>
<rect x="1093.6" y="499.6" width="4.2" height="4.2" fill="#6a90a8"/>
<rect x="1093.6" y="504.8" width="4.2" height="4.2" fill="#456f88"/>
<rect x="1093.6" y="510.0" width="4.2" height="4.2" fill="#5c8298"/>
<rect x="1093.6" y="515.2" width="4.2" height="4.2" fill="#a84262"/>
<rect x="1093.6" y="520.4" width="4.2" height="4.2" fill="#456f88"/>
<rect x="1093.6" y="525.6" width="4.2" height="4.2" fill="#a84262"/>
<rect x="1093.6" y="530.8" width="4.2" height="4.2" fill="#2e546c"/>
<rect x="1093.6" y="536.0" width="4.2" height="4.2" fill="#9a3456"/>
<rect x="1093.6" y="541.2" width="4.2" height="4.2" fill="#34607a"/>
<rect x="1093.6" y="546.4" width="4.2" height="4.2" fill="#9a3456"/>
<rect x="1093.6" y="551.6" width="4.2" height="4.2" fill="#5c8298"/>
<rect x="1093.6" y="556.8" width="4.2" height="4.2" fill="#34607a"/>
<rect x="1093.6" y="562.0" width="4.2" height="4.2" fill="#2e546c"/>
<rect x="1093.6" y="567.2" width="4.2" height="4.2" fill="#a84262"/>
<rect x="1093.6" y="572.4" width="4.2" height="4.2" fill="#5c8298"/>
<rect x="1093.6" y="577.6" width="4.2" height="4.2" fill="#34607a"/>
<rect x="1093.6" y="582.8" width="4.2" height="4.2" fill="#9a3456"/>
<rect x="1093.6" y="588.0" width="4.2" height="4.2" fill="#a84262"/>
<rect x="1093.6" y="593.2" width="4.2" height="4.2" fill="#5c8298"/>
<rect x="1093.6" y="598.4" width="4.2" height="4.2" fill="#2e546c"/>
<rect x="1093.6" y="603.6" width="4.2" height="4.2" fill="#b04a68"/>
<rect x="1093.6" y="608.8" width="4.2" height="4.2" fill="#a84262"/>
<rect x="1093.6" y="614.0" width="4.2" height="4.2" fill="#34607a"/>
<rect x="1093.6" y="619.2" width="4.2" height="4.2" fill="#6a90a8"/>
<rect x="1093.6" y="624.4" width="4.2" height="4.2" fill="#9a3456"/>
<rect x="1093.6" y="629.6" width="4.2" height="4.2" fill="#456f88"/>
<rect x="1098.8" y="489.2" width="4.2" height="4.2" fill="#a84262"/>
<rect x="1098.8" y="494.4" width="4.2" height="4.2" fill="#9a3456"/>
<rect x="1098.8" y="499.6" width="4.2" height="4.2" fill="#9a3456"/>
<rect x="1098.8" y="504.8" width="4.2" height="4.2" fill="#2e546c"/>
<rect x="1098.8" y="510.0" width="4.2" height="4.2" fill="#456f88"/>
<rect x="1098.8" y="515.2" width="4.2" height="4.2" fill="#9a3456"/>
<rect x="1098.8" y="520.4" width="4.2" height="4.2" fill="#6a90a8"/>
<rect x="1098.8" y="525.6" width="4.2" height="4.2" fill="#2e546c"/>
<rect x="1098.8" y="530.8" width="4.2" height="4.2" fill="#6a90a8"/>
<rect x="1098.8" y="536.0" width="4.2" height="4.2" fill="#456f88"/>
<rect x="1098.8" y="541.2" width="4.2" height="4.2" fill="#34607a"/>
<rect x="1098.8" y="546.4" width="4.2" height="4.2" fill="#34607a"/>
<rect x="1098.8" y="551.6" width="4.2" height="4.2" fill="#2e546c"/>
<rect x="1098.8" y="556.8" width="4.2" height="4.2" fill="#a84262"/>
<rect x="1098.8" y="562.0" width="4.2" height="4.2" fill="#456f88"/>
<rect x="1098.8" y="567.2" width="4.2" height="4.2" fill="#6a90a8"/>
<rect x="1098.8" y="572.4" width="4.2" height="4.2" fill="#34607a"/>
<rect x="1098.8" y="577.6" width="4.2" height="4.2" fill="#b04a68"/>
<rect x="1098.8" y="582.8" width="4.2" height="4.2" fill="#6a90a8"/>
<rect x="1098.8" y="588.0" width="4.2" height="4.2" fill="#b04a68"/>
<rect x="1098.8" y="593.2" width="4.2" height="4.2" fill="#9a3456"/>
<rect x="1098.8" y="598.4" width="4.2" height="4.2" fill="#2e546c"/>
<rect x="1098.8" y="603.6" width="4.2" height="4.2" fill="#34607a"/>
<rect x="1098.8" y="608.8" width="4.2" height="4.2" fill="#5c8298"/>
<rect x="1098.8" y="614.0" width="4.2" height="4.2" fill="#b04a68"/>
<rect x="1098.8" y="619.2" width="4.2" height="4.2" fill="#2e546c"/>
<rect x="1098.8" y="624.4" width="4.2" height="4.2" fill="#9a3456"/>
<rect x="1098.8" y="629.6" width="4.2" height="4.2" fill="#a84262"/>
<rect x="1104.0" y="489.2" width="4.2" height="4.2" fill="#5c8298"/>
<rect x="1104.0" y="494.4" width="4.2" height="4.2" fill="#5c8298"/>
<rect x="1104.0" y="499.6" width="4.2" height="4.2" fill="#2e546c"/>
<rect x="1104.0" y="504.8" width="4.2" height="4.2" fill="#a84262"/>
<rect x="1104.0" y="510.0" width="4.2" height="4.2" fill="#2e546c"/>
<rect x="1104.0" y="515.2" width="4.2" height="4.2" fill="#9a3456"/>
<rect x="1104.0" y="520.4" width="4.2" height="4.2" fill="#5c8298"/>
<rect x="1104.0" y="525.6" width="4.2" height="4.2" fill="#6a90a8"/>
<rect x="1104.0" y="530.8" width="4.2" height="4.2" fill="#6a90a8"/>
<rect x="1104.0" y="536.0" width="4.2" height="4.2" fill="#34607a"/>
<rect x="1104.0" y="541.2" width="4.2" height="4.2" fill="#456f88"/>
<rect x="1104.0" y="546.4" width="4.2" height="4.2" fill="#2e546c"/>
<rect x="1104.0" y="551.6" width="4.2" height="4.2" fill="#a84262"/>
<rect x="1104.0" y="556.8" width="4.2" height="4.2" fill="#5c8298"/>
<rect x="1104.0" y="562.0" width="4.2" height="4.2" fill="#5c8298"/>
<rect x="1104.0" y="567.2" width="4.2" height="4.2" fill="#b04a68"/>
<rect x="1104.0" y="572.4" width="4.2" height="4.2" fill="#b04a68"/>
<rect x="1104.0" y="577.6" width="4.2" height="4.2" fill="#2e546c"/>
<rect x="1104.0" y="582.8" width="4.2" height="4.2" fill="#2e546c"/>
<rect x="1104.0" y="588.0" width="4.2" height="4.2" fill="#9a3456"/>
<rect x="1104.0" y="593.2" width="4.2" height="4.2" fill="#b04a68"/>
<rect x="1104.0" y="598.4" width="4.2" height="4.2" fill="#5c8298"/>
<rect x="1104.0" y="603.6" width="4.2" height="4.2" fill="#6a90a8"/>
<rect x="1104.0" y="608.8" width="4.2" height="4.2" fill="#a84262"/>
<rect x="1104.0" y="614.0" width="4.2" height="4.2" fill="#5c8298"/>
<rect x="1104.0" y="619.2" width="4.2" height="4.2" fill="#5c8298"/>
<rect x="1104.0" y="624.4" width="4.2" height="4.2" fill="#2e546c"/>
<rect x="1104.0" y="629.6" width="4.2" height="4.2" fill="#6a90a8"/>
<rect x="1109.2" y="489.2" width="4.2" height="4.2" fill="#456f88"/>
<rect x="1109.2" y="494.4" width="4.2" height="4.2" fill="#34607a"/>
<rect x="1109.2" y="499.6" width="4.2" height="4.2" fill="#5c8298"/>
<rect x="1109.2" y="504.8" width="4.2" height="4.2" fill="#5c8298"/>
<rect x="1109.2" y="510.0" width="4.2" height="4.2" fill="#b04a68"/>
<rect x="1109.2" y="515.2" width="4.2" height="4.2" fill="#34607a"/>
<rect x="1109.2" y="520.4" width="4.2" height="4.2" fill="#2e546c"/>
<rect x="1109.2" y="525.6" width="4.2" height="4.2" fill="#456f88"/>
<rect x="1109.2" y="530.8" width="4.2" height="4.2" fill="#a84262"/>
<rect x="1109.2" y="536.0" width="4.2" height="4.2" fill="#9a3456"/>
<rect x="1109.2" y="541.2" width="4.2" height="4.2" fill="#6a90a8"/>
<rect x="1109.2" y="546.4" width="4.2" height="4.2" fill="#b04a68"/>
<rect x="1109.2" y="551.6" width="4.2" height="4.2" fill="#2e546c"/>
<rect x="1109.2" y="556.8" width="4.2" height="4.2" fill="#9a3456"/>
<rect x="1109.2" y="562.0" width="4.2" height="4.2" fill="#9a3456"/>
<rect x="1109.2" y="567.2" width="4.2" height="4.2" fill="#a84262"/>
<rect x="1109.2" y="572.4" width="4.2" height="4.2" fill="#a84262"/>
<rect x="1109.2" y="577.6" width="4.2" height="4.2" fill="#2e546c"/>
<rect x="1109.2" y="582.8" width="4.2" height="4.2" fill="#456f88"/>
<rect x="1109.2" y="588.0" width="4.2" height="4.2" fill="#a84262"/>
<rect x="1109.2" y="593.2" width="4.2" height="4.2" fill="#b04a68"/>
<rect x="1109.2" y="598.4" width="4.2" height="4.2" fill="#456f88"/>
<rect x="1109.2" y="603.6" width="4.2" height="4.2" fill="#5c8298"/>
<rect x="1109.2" y="608.8" width="4.2" height="4.2" fill="#6a90a8"/>
<rect x="1109.2" y="614.0" width="4.2" height="4.2" fill="#b04a68"/>
<rect x="1109.2" y="619.2" width="4.2" height="4.2" fill="#b04a68"/>
<rect x="1109.2" y="624.4" width="4.2" height="4.2" fill="#6a90a8"/>
<rect x="1109.2" y="629.6" width="4.2" height="4.2" fill="#a84262"/>
<rect x="1114.4" y="489.2" width="4.2" height="4.2" fill="#5c8298"/>
<rect x="1114.4" y="494.4" width="4.2" height="4.2" fill="#456f88"/>
<rect x="1114.4" y="499.6" width="4.2" height="4.2" fill="#9a3456"/>
<rect x="1114.4" y="504.8" width="4.2" height="4.2" fill="#9a3456"/>
<rect x="1114.4" y="510.0" width="4.2" height="4.2" fill="#b04a68"/>
<rect x="1114.4" y="515.2" width="4.2" height="4.2" fill="#b04a68"/>
<rect x="1114.4" y="520.4" width="4.2" height="4.2" fill="#456f88"/>
<rect x="1114.4" y="525.6" width="4.2" height="4.2" fill="#6a90a8"/>
<rect x="1114.4" y="530.8" width="4.2" height="4.2" fill="#a84262"/>
<rect x="1114.4" y="536.0" width="4.2" height="4.2" fill="#456f88"/>
<rect x="1114.4" y="541.2" width="4.2" height="4.2" fill="#b04a68"/>
<rect x="1114.4" y="546.4" width="4.2" height="4.2" fill="#34607a"/>
<rect x="1114.4" y="551.6" width="4.2" height="4.2" fill="#b04a68"/>
<rect x="1114.4" y="556.8" width="4.2" height="4.2" fill="#2e546c"/>
<rect x="1114.4" y="562.0" width="4.2" height="4.2" fill="#6a90a8"/>
<rect x="1114.4" y="567.2" width="4.2" height="4.2" fill="#9a3456"/>
<rect x="1114.4" y="572.4" width="4.2" height="4.2" fill="#6a90a8"/>
<rect x="1114.4" y="577.6" width="4.2" height="4.2" fill="#456f88"/>
<rect x="1114.4" y="582.8" width="4.2" height="4.2" fill="#a84262"/>
<rect x="1114.4" y="588.0" width="4.2" height="4.2" fill="#a84262"/>
<rect x="1114.4" y="593.2" width="4.2" height="4.2" fill="#2e546c"/>
<rect x="1114.4" y="598.4" width="4.2" height="4.2" fill="#456f88"/>
<rect x="1114.4" y="603.6" width="4.2" height="4.2" fill="#5c8298"/>
<rect x="1114.4" y="608.8" width="4.2" height="4.2" fill="#9a3456"/>
<rect x="1114.4" y="614.0" width="4.2" height="4.2" fill="#9a3456"/>
<rect x="1114.4" y="619.2" width="4.2" height="4.2" fill="#34607a"/>
<rect x="1114.4" y="624.4" width="4.2" height="4.2" fill="#5c8298"/>
<rect x="1114.4" y="629.6" width="4.2" height="4.2" fill="#a84262"/>
<rect x="1119.6" y="489.2" width="4.2" height="4.2" fill="#6a90a8"/>
<rect x="1119.6" y="494.4" width="4.2" height="4.2" fill="#5c8298"/>
<rect x="1119.6" y="499.6" width="4.2" height="4.2" fill="#5c8298"/>
<rect x="1119.6" y="504.8" width="4.2" height="4.2" fill="#456f88"/>
<rect x="1119.6" y="510.0" width="4.2" height="4.2" fill="#a84262"/>
<rect x="1119.6" y="515.2" width="4.2" height="4.2" fill="#6a90a8"/>
<rect x="1119.6" y="520.4" width="4.2" height="4.2" fill="#34607a"/>
<rect x="1119.6" y="525.6" width="4.2" height="4.2" fill="#5c8298"/>
<rect x="1119.6" y="530.8" width="4.2" height="4.2" fill="#6a90a8"/>
<rect x="1119.6" y="536.0" width="4.2" height="4.2" fill="#6a90a8"/>
<rect x="1119.6" y="541.2" width="4.2" height="4.2" fill="#2e546c"/>
<rect x="1119.6" y="546.4" width="4.2" height="4.2" fill="#6a90a8"/>
<rect x="1119.6" y="551.6" width="4.2" height="4.2" fill="#5c8298"/>
<rect x="1119.6" y="556.8" width="4.2" height="4.2" fill="#6a90a8"/>
<rect x="1119.6" y="562.0" width="4.2" height="4.2" fill="#a84262"/>
<rect x="1119.6" y="567.2" width="4.2" height="4.2" fill="#2e546c"/>
<rect x="1119.6" y="572.4" width="4.2" height="4.2" fill="#9a3456"/>
<rect x="1119.6" y="577.6" width="4.2" height="4.2" fill="#9a3456"/>
<rect x="1119.6" y="582.8" width="4.2" height="4.2" fill="#456f88"/>
<rect x="1119.6" y="588.0" width="4.2" height="4.2" fill="#34607a"/>
<rect x="1119.6" y="593.2" width="4.2" height="4.2" fill="#9a3456"/>
<rect x="1119.6" y="598.4" width="4.2" height="4.2" fill="#2e546c"/>
<rect x="1119.6" y="603.6" width="4.2" height="4.2" fill="#b04a68"/>
<rect x="1119.6" y="608.8" width="4.2" height="4.2" fill="#34607a"/>
<rect x="1119.6" y="614.0" width="4.2" height="4.2" fill="#b04a68"/>
<rect x="1119.6" y="619.2" width="4.2" height="4.2" fill="#5c8298"/>
<rect x="1119.6" y="624.4" width="4.2" height="4.2" fill="#a84262"/>
<rect x="1119.6" y="629.6" width="4.2" height="4.2" fill="#456f88"/>
</g>
</g>
<path d="M1005 545 Q1003 530 1018 524" stroke="#6a8aa0" stroke-width="1" fill="none" opacity="0.5"/>
<path d="M1013 566 L1050 600 L1091 562" stroke="#87a2b6" stroke-width="3.5" fill="none" opacity="0.9"/>
<ellipse cx="1070" cy="550" rx="20" ry="18" fill="#9cc0d8" opacity="0.35" filter="url(#lb2)"/>
<g filter="url(#lb)" opacity="0.72">
<path d="M1054.0 572 L1054.0 526.0 Q1054.0 518.0 1056.5 514.0 L1059.5 514.0 Q1062.0 518.0 1062.0 526.0 L1062.0 572 Z" fill="#a8c8de" stroke="#d8ecf8" stroke-width="0.8"/>
<rect x="1056.5" y="510.0" width="3" height="4" rx="1" fill="#c8e0f0"/>
<path d="M1061.0 572 L1061.0 521.8 Q1061.0 513.8 1064.0 509.8 L1067.0 509.8 Q1070.0 513.8 1070.0 521.8 L1070.0 572 Z" fill="#a8c8de" stroke="#d8ecf8" stroke-width="0.8"/>
<rect x="1064.0" y="505.8" width="3" height="4" rx="1" fill="#c8e0f0"/>
<path d="M1073.0 572 L1073.0 521.8 Q1073.0 513.8 1076.0 509.8 L1079.0 509.8 Q1082.0 513.8 1082.0 521.8 L1082.0 572 Z" fill="#a8c8de" stroke="#d8ecf8" stroke-width="0.8"/>
<rect x="1076.0" y="505.8" width="3" height="4" rx="1" fill="#c8e0f0"/>
<path d="M1081.0 572 L1081.0 526.0 Q1081.0 518.0 1083.5 514.0 L1086.5 514.0 Q1089.0 518.0 1089.0 526.0 L1089.0 572 Z" fill="#a8c8de" stroke="#d8ecf8" stroke-width="0.8"/>
<rect x="1083.5" y="510.0" width="3" height="4" rx="1" fill="#c8e0f0"/>
</g>
<path d="M1015.0 566.7 L1021.7 571.3 L1028.3 568.0 L1033.3 570.8 L1038.7 568.8 L1043.7 572.5 L1048.3 568.3 L1052.5 568.3 L1056.7 548.3 L1060.0 562.0 L1063.3 569.5 L1068.3 565.0 L1076.7 565.8" stroke="#ffffff" stroke-width="1.3" fill="none" stroke-linejoin="round"/>
<rect x="1002.2" y="593.5" width="98" height="26" rx="13" fill="#8e1020"/><rect x="1003.2" y="594.3" width="96" height="24.2" rx="12.1" fill="#c0142c"/>
<circle cx="1102.5" cy="607" r="3" fill="#8a9aa4"/>
<circle cx="1121" cy="607" r="8" fill="#f2f2f2"/>
</svg>
<div class="t" style="left:24.30px;top:24.10px;font-size:21.5px;font-weight:bold;color:#f4f4f4;transform:scaleX(1.015);">AdaptResponse: A randomized study of synchronized LV pacing</div>
<div style="position:absolute;left:0;top:35.5px;width:12px;height:1.2px;background:#505050"></div>
<div style="position:absolute;left:10px;top:33px;width:6px;height:6px;border-radius:50%;background:#6e6e6e"></div>
<svg style="position:absolute;left:0;top:0" width="1120" height="630" viewBox="0 0 1120 630">
<defs>
<linearGradient id="curt" x1="868" y1="0" x2="1110" y2="0" gradientUnits="userSpaceOnUse">
<stop offset="0.000" stop-color="#101018"/>
<stop offset="0.045" stop-color="#060608"/>
<stop offset="0.178" stop-color="#06060a"/>
<stop offset="0.223" stop-color="#0c1260"/>
<stop offset="0.244" stop-color="#1c2ab4"/>
<stop offset="0.277" stop-color="#161f9a"/>
<stop offset="0.360" stop-color="#101a88"/>
<stop offset="0.401" stop-color="#0a0e5c"/>
<stop offset="0.545" stop-color="#0a0e60"/>
<stop offset="0.595" stop-color="#0e1680"/>
<stop offset="0.636" stop-color="#0c127a"/>
<stop offset="0.678" stop-color="#080a40"/>
<stop offset="0.731" stop-color="#050510"/>
<stop offset="0.777" stop-color="#0e1680"/>
<stop offset="0.876" stop-color="#0e1680"/>
<stop offset="0.909" stop-color="#050508"/>
<stop offset="1.000" stop-color="#060606"/>
</linearGradient>
<radialGradient id="face" cx="0.5" cy="0.3" r="0.75">
<stop offset="0" stop-color="#c49a8a"/>
<stop offset="0.55" stop-color="#a27a6c"/>
<stop offset="1" stop-color="#6e5048"/>
</radialGradient>
<linearGradient id="suit" x1="0" y1="0" x2="1" y2="0">
<stop offset="0" stop-color="#3c3f5c"/>
<stop offset="0.45" stop-color="#4a4e6e"/>
<stop offset="1" stop-color="#42455f"/>
</linearGradient>
<linearGradient id="banner" x1="0" y1="0" x2="0" y2="1">
<stop offset="0" stop-color="#1d6d90"/>
<stop offset="0.5" stop-color="#105878"/>
<stop offset="1" stop-color="#0a3e5e"/>
</linearGradient>
<filter id="soft" x="-5%" y="-5%" width="110%" height="110%"><feGaussianBlur stdDeviation="1"/></filter>
<filter id="soft2"><feGaussianBlur stdDeviation="0.6"/></filter>
</defs>
<rect x="1110" y="69" width="10" height="300" fill="#121c20"/>
<defs><linearGradient id="undr" x1="0" y1="0" x2="0" y2="1"><stop offset="0" stop-color="#0e2029"/><stop offset="0.5" stop-color="#0f2530" stop-opacity="0.7"/><stop offset="1" stop-color="#10283a" stop-opacity="0"/></linearGradient></defs><rect x="867" y="280" width="243" height="74" fill="#0f1d22"/><rect x="867" y="354" width="253" height="40" fill="url(#undr)"/>
<rect x="868" y="69" width="242" height="214" fill="url(#curt)"/>
<g filter="url(#soft)">
<!-- suit -->
<path d="M900 283 L905 250 Q910 212 920 200 Q930 190 948 185 L965 178 L1017 159 L1032 170 L1068 180 Q1084 188 1088 210 L1094 250 L1097 283 Z" fill="url(#suit)"/>
<!-- shirt -->
<path d="M972 179 L1016 158 L1018 175 L1004 200 L988 250 L978 215 Z" fill="#e2e6ee"/>
<!-- tie -->
<path d="M978 189 L996 189 L990 206 L984 268 L968 268 L975 206 Z" fill="#5c2c70"/>
<!-- lanyard -->
<path d="M969 180 L973 180 L990 245 L985 248 Z" fill="#a8c8e0"/>
<!-- lapels -->
<path d="M1018 168 L1034 172 L1000 258 L992 248 L1004 200 Z" fill="#3a3d58"/>
<path d="M963 179 L950 190 L968 264 L974 214 Z" fill="#3d405a"/>
<!-- pin -->
<rect x="1018" y="225" width="14" height="5" fill="#c8ccd8"/>
<!-- ears -->
<ellipse cx="950" cy="140" rx="5" ry="10" fill="#9a7262"/>
<ellipse cx="1014" cy="136" rx="6" ry="11" fill="#9a7262"/>
<!-- face -->
<path d="M953 130 Q952 104 982 102 Q1012 104 1012 130 L1011 158 Q1006 186 983 190 Q960 186 955 160 Z" fill="url(#face)"/>
<!-- hair -->
<path d="M948 134 Q944 106 958 94 Q980 82 1004 92 Q1020 104 1015 134 L1010 132 Q1010 118 1000 112 Q984 108 966 111 Q954 116 954 136 Z" fill="#8a887a"/>
<path d="M960 96 Q982 86 1002 94 Q990 92 978 94 Q966 98 960 104 Z" fill="#a4a294"/>
<!-- nose -->
<path d="M976 150 Q973 162 978 165 Q984 166 986 160" fill="#9a6e5e"/>
<!-- beard -->
<path d="M963 167 Q967 185 983 188 Q1000 186 1005 171 L1000 163 Q990 169 982 169 Q972 169 964 161 Z" fill="#aaa59d"/>
<path d="M970 165 Q982 160 994 164 L992 167 Q982 164 972 168 Z" fill="#8a8078"/>
<ellipse cx="982" cy="171" rx="7" ry="2.5" fill="#5e423c"/>
<!-- glasses -->
<ellipse cx="966" cy="150" rx="11" ry="7" fill="#a88070" stroke="#4e3020" stroke-width="2.2"/>
<ellipse cx="990" cy="148" rx="11" ry="7" fill="#a88070" stroke="#4e3020" stroke-width="2.2"/>
</g>
<!-- mics -->
<path d="M941 211 Q926 240 914 281" stroke="#16161e" stroke-width="3" fill="none" filter="url(#soft2)"/>
<path d="M986 225 Q1008 250 1028 281" stroke="#22222c" stroke-width="2.5" fill="none" filter="url(#soft2)"/>
<!-- paper -->
<path d="M928 268 L1000 266 L1001 282 L928 282 Z" fill="#e6e8ee" filter="url(#soft2)"/>
<!-- podium / name board -->
<rect x="876.4" y="282" width="226.6" height="72.2" fill="#f3f5f7"/>
<path d="M886.5 308.7 H1100 Q1103.5 308.7 1103.5 312 V343.5 Q1103.5 346.7 1100 346.7 H886.5 Q883.3 346.7 883.3 343.5 V312 Q883.3 308.7 886.5 308.7 Z" fill="url(#banner)"/>
</svg>

<div style="position:absolute;left:0px;top:66px;width:9px;height:231px;background:#0d0d0e;"></div>
<div style="position:absolute;left:9px;top:70px;width:858px;height:483px;background:#fdfdfd;"></div>
<div class="t" style="left:47.60px;top:102.77px;font-size:30.4px;color:#921b26;">Secondary endpoints</div>
<div style="position:absolute;left:48px;top:144px;width:567px;height:37px;background:#02304f;"></div>
<div style="position:absolute;left:219.5px;top:144px;width:1.0px;height:37px;background:#8da3b8;"></div>
<div style="position:absolute;left:331.5px;top:144px;width:1.0px;height:37px;background:#8da3b8;"></div>
<div style="position:absolute;left:443.0px;top:144px;width:1.0px;height:37px;background:#8da3b8;"></div>
<div style="position:absolute;left:554.5px;top:144px;width:1.0px;height:37px;background:#8da3b8;"></div>
<div style="position:absolute;left:48px;top:204px;width:567px;height:2px;background:#b5b5b5;"></div>
<div style="position:absolute;left:48px;top:227px;width:567px;height:2px;background:#b5b5b5;"></div>
<div style="position:absolute;left:48px;top:250px;width:567px;height:2px;background:#b5b5b5;"></div>
<div style="position:absolute;left:48px;top:273px;width:567px;height:2px;background:#b5b5b5;"></div>
<div style="position:absolute;left:220px;top:296px;width:395px;height:2px;background:#b5b5b5;"></div>
<div style="position:absolute;left:48px;top:367px;width:567px;height:2px;background:#b5b5b5;"></div>
<div style="position:absolute;left:220px;top:390px;width:395px;height:2px;background:#b5b5b5;"></div>
<div style="position:absolute;left:48px;top:418px;width:567px;height:2px;background:#b5b5b5;"></div>
<div style="position:absolute;left:48px;top:443px;width:567px;height:2px;background:#b5b5b5;"></div>
<div style="position:absolute;left:48px;top:466px;width:567px;height:2px;background:#b5b5b5;"></div>
<div style="position:absolute;left:48px;top:489px;width:567px;height:2px;background:#b5b5b5;"></div>
<div style="position:absolute;left:219px;top:181px;width:2px;height:309px;background:#b5b5b5;"></div>
<div style="position:absolute;left:442.5px;top:181px;width:2.0px;height:309px;background:#b5b5b5;"></div>
<div style="position:absolute;left:554px;top:181px;width:2px;height:309px;background:#b5b5b5;"></div>
<div style="position:absolute;left:331px;top:205px;width:2px;height:69px;background:#b5b5b5;"></div>
<div style="position:absolute;left:331px;top:297px;width:2px;height:71px;background:#b5b5b5;"></div>
<div style="position:absolute;left:331px;top:391px;width:2px;height:28px;background:#b5b5b5;"></div>
<div style="position:absolute;left:331px;top:444px;width:2px;height:46px;background:#b5b5b5;"></div>
<div class="t" style="left:84.02px;top:150.50px;font-size:10.4px;font-weight:bold;color:#ffffff;">Secondary endpoint</div>
<div class="t" style="left:241.91px;top:150.50px;font-size:10.4px;font-weight:bold;color:#ffffff;">Adaptive CRT</div>
<div class="t" style="left:254.76px;top:165.00px;font-size:10.4px;font-weight:bold;color:#ffffff;">(n=1810)</div>
<div class="t" style="left:342.68px;top:150.50px;font-size:10.4px;font-weight:bold;color:#ffffff;">Conventional CRT</div>
<div class="t" style="left:366.51px;top:165.00px;font-size:10.4px;font-weight:bold;color:#ffffff;">(n=1807)</div>
<div class="t" style="left:458.80px;top:150.50px;font-size:10.4px;font-weight:bold;color:#ffffff;">Treatment effect</div>
<div class="t" style="left:566.50px;top:150.50px;font-size:10.4px;font-weight:bold;color:#ffffff;">P-value</div>
<div class="t" style="left:266.42px;top:188.70px;font-size:10.4px;font-weight:bold;color:#1c3344;">Occurrence rate at 5 years</div>
<div class="t" style="left:469.78px;top:188.70px;font-size:10.4px;font-weight:bold;color:#1c3344;">HR (95% CI)</div>
<div class="t" style="left:57.20px;top:212.70px;font-size:10.4px;font-weight:bold;color:#1c3344;">All-cause mortality</div>
<div class="t" style="left:260.97px;top:212.53px;font-size:10.6px;color:#3a3a3a;">15.6%</div>
<div class="t" style="left:372.72px;top:212.53px;font-size:10.6px;color:#3a3a3a;">17.7%</div>
<div class="t" style="left:461.54px;top:212.53px;font-size:10.6px;color:#3a3a3a;">0.88 (0.75-1.03)</div>
<div class="t" style="left:574.68px;top:212.53px;font-size:10.6px;color:#3a3a3a;">0.12</div>
<div class="t" style="left:57.20px;top:235.40px;font-size:10.4px;font-weight:bold;color:#1c3344;">HF event</div>
<div class="t" style="left:260.97px;top:235.23px;font-size:10.6px;color:#3a3a3a;">13.2%</div>
<div class="t" style="left:372.72px;top:235.23px;font-size:10.6px;color:#3a3a3a;">14.5%</div>
<div class="t" style="left:464.48px;top:235.23px;font-size:10.6px;color:#3a3a3a;">0.91 (0.76-1.8)</div>
<div class="t" style="left:574.68px;top:235.23px;font-size:10.6px;color:#3a3a3a;">0.28</div>
<div class="t" style="left:57.20px;top:258.00px;font-size:10.4px;font-weight:bold;color:#1c3344;">AF (≥ 6 hours)</div>
<div class="t" style="left:260.97px;top:257.83px;font-size:10.6px;color:#3a3a3a;">18.8%</div>
<div class="t" style="left:372.72px;top:257.83px;font-size:10.6px;color:#3a3a3a;">19.8%</div>
<div class="t" style="left:461.54px;top:257.83px;font-size:10.6px;color:#3a3a3a;">0.99 (0.85-1.16)</div>
<div class="t" style="left:574.68px;top:257.83px;font-size:10.6px;color:#3a3a3a;">0.89</div>
<div class="t" style="left:284.94px;top:281.20px;font-size:10.4px;font-weight:bold;color:#1c3344;">Percent of patients</div>
<div class="t" style="left:469.49px;top:281.20px;font-size:10.4px;font-weight:bold;color:#1c3344;">OR (95% CI)</div>
<div class="t" style="left:57.20px;top:309.90px;font-size:10.4px;font-weight:bold;color:#1c3344;">Clinical Composite Score</div>
<div class="t" style="left:62.80px;top:324.00px;font-size:10.4px;font-weight:bold;color:#1c3344;">Improved</div>
<div class="t" style="left:62.80px;top:338.20px;font-size:10.4px;font-weight:bold;color:#1c3344;">Stabilized</div>
<div class="t" style="left:62.80px;top:352.50px;font-size:10.4px;font-weight:bold;color:#1c3344;">Worsened</div>
<div class="t" style="left:260.97px;top:321.63px;font-size:10.6px;color:#3a3a3a;">69.1%</div>
<div class="t" style="left:260.97px;top:335.93px;font-size:10.6px;color:#3a3a3a;">23.3%</div>
<div class="t" style="left:263.92px;top:350.03px;font-size:10.6px;color:#3a3a3a;">7.6%</div>
<div class="t" style="left:372.72px;top:321.63px;font-size:10.6px;color:#3a3a3a;">71.4%</div>
<div class="t" style="left:372.72px;top:335.93px;font-size:10.6px;color:#3a3a3a;">21.4%</div>
<div class="t" style="left:375.67px;top:350.03px;font-size:10.6px;color:#3a3a3a;">7.1%</div>
<div class="t" style="left:461.54px;top:335.93px;font-size:10.6px;color:#3a3a3a;">0.89 (0.77-1.03)</div>
<div class="t" style="left:574.68px;top:328.53px;font-size:10.6px;color:#3a3a3a;">0.11</div>
<div class="t" style="left:267.01px;top:375.20px;font-size:10.4px;font-weight:bold;color:#1c3344;">Rate per 100 patient-years</div>
<div class="t" style="left:469.78px;top:375.20px;font-size:10.4px;font-weight:bold;color:#1c3344;">RR (95% CI)</div>
<div class="t" style="left:57.20px;top:404.20px;font-size:10.4px;font-weight:bold;color:#1c3344;">30-day readmission after HFH</div>
<div class="t" style="left:265.68px;top:401.53px;font-size:10.6px;color:#3a3a3a;">1.07</div>
<div class="t" style="left:377.43px;top:401.53px;font-size:10.6px;color:#3a3a3a;">0.93</div>
<div class="t" style="left:461.54px;top:401.53px;font-size:10.6px;color:#3a3a3a;">1.15 (0.75-1.75)</div>
<div class="t" style="left:574.68px;top:401.53px;font-size:10.6px;color:#3a3a3a;">0.52</div>
<div class="t" style="left:244.48px;top:427.60px;font-size:10.4px;font-weight:bold;color:#1c3344;">Mean (SD) change baseline to 2 yrs</div>
<div class="t" style="left:451.86px;top:427.60px;font-size:10.4px;font-weight:bold;color:#1c3344;">Difference (95% CI)</div>
<div class="t" style="left:57.20px;top:451.80px;font-size:10.4px;font-weight:bold;color:#1c3344;">KCCQ</div>
<div class="t" style="left:250.37px;top:451.63px;font-size:10.6px;color:#3a3a3a;">16.8 (21.2)</div>
<div class="t" style="left:362.12px;top:451.63px;font-size:10.6px;color:#3a3a3a;">16.5 (20.4)</div>
<div class="t" style="left:466.85px;top:451.63px;font-size:10.6px;color:#3a3a3a;">-0.1 (-1.0-0.9)</div>
<div class="t" style="left:574.68px;top:451.63px;font-size:10.6px;color:#3a3a3a;">0.88</div>
<div class="t" style="left:57.20px;top:474.50px;font-size:10.4px;font-weight:bold;color:#1c3344;">EQ-5D Utility index*</div>
<div class="t" style="left:256.26px;top:474.33px;font-size:10.6px;color:#3a3a3a;">54 (190)</div>
<div class="t" style="left:368.01px;top:474.33px;font-size:10.6px;color:#3a3a3a;">48 (180)</div>
<div class="t" style="left:468.61px;top:474.33px;font-size:10.6px;color:#3a3a3a;">1.3 (-6.8-9.4)</div>
<div class="t" style="left:574.68px;top:474.33px;font-size:10.6px;color:#3a3a3a;">0.75</div>
<div style="position:absolute;left:625.5px;top:227.6px;width:4px;height:4px;border-radius:2px;background:#24343e"></div>
<div class="t" style="left:640.20px;top:221.46px;font-size:17.3px;color:#24343e;">No significant differences</div>
<div class="t" style="left:640.20px;top:244.06px;font-size:17.3px;color:#24343e;">between groups for</div>
<div class="t" style="left:640.20px;top:266.66px;font-size:17.3px;color:#24343e;">secondary endpoints.</div>
<div style="position:absolute;left:625.5px;top:308.5px;width:4px;height:4px;border-radius:2px;background:#24343e"></div>
<div class="t" style="left:640.20px;top:302.36px;font-size:17.3px;color:#24343e;">Overall rates of all-cause</div>
<div class="t" style="left:640.20px;top:324.96px;font-size:17.3px;color:#24343e;">mortality, HF events, and AF</div>
<div class="t" style="left:640.20px;top:347.56px;font-size:17.3px;color:#24343e;">were very low.</div>
<div style="position:absolute;left:625.5px;top:388.7px;width:4px;height:4px;border-radius:2px;background:#24343e"></div>
<div class="t" style="left:640.20px;top:382.56px;font-size:17.3px;color:#24343e;">CRT response rates were</div>
<div class="t" style="left:640.20px;top:405.16px;font-size:17.3px;color:#24343e;">very high.</div>
<div class="t" style="left:114.60px;top:496.36px;font-size:9.85px;color:#383838;">*EQ-5D utility index values reported as x 0.001</div>
<div style="position:absolute;left:181px;top:522px;width:682px;height:2px;background:#e6e6e6;"></div>
<div style="position:absolute;left:175.5px;top:517.5px;width:11px;height:11px;border-radius:50%;background:#d0d0d0"></div>
<div style="position:absolute;left:783px;top:517px;width:11.5px;height:11.5px;border-radius:50%;background:#7a7a7a"></div>
<div class="t" style="left:730.00px;top:533.55px;font-size:8.8px;color:#8a8a8a;">AdaptResponse | April 17, 2023</div>
<div class="t" style="left:890.70px;top:314.65px;font-size:12.7px;font-weight:bold;color:#f0f6fa;">Bruce Wilkoff</div>
<div class="t" style="left:890.70px;top:328.55px;font-size:12.7px;color:#f0f6fa;">USA</div>
<div class="t" style="left:1010.60px;top:599.95px;font-size:14px;font-weight:bold;color:#ffffff;transform:scaleX(1.05);">#EHRA2023</div>
<svg style="position:absolute;left:0;top:0" width="1120" height="630"><g stroke="#10293c" stroke-width="1.9" fill="none" stroke-linejoin="miter"><path d="M53.5 506.4 H41.7 V527.3 H53.8 M41.7 516.9 H52.5"/><path d="M60.4 506 V528 M74.1 506 V528 M60.4 516.9 H74.1"/><path d="M82.3 528 V506.4 H89 Q96.2 506.4 96.2 512 Q96.2 518 89 518 H82.3 M89 518 L97.3 528"/><path d="M102.3 528 L111 505.8 L118.6 530.6 L126.5 521.6"/></g></svg>
<div class="t" style="left:126.20px;top:516.56px;font-size:18.6px;color:#92464a;">2023</div>
</div></body></html>
